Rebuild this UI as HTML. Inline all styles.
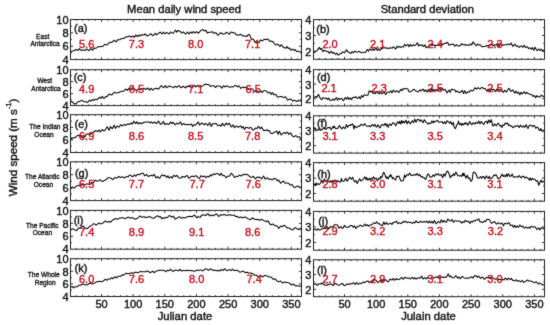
<!DOCTYPE html><html><head><meta charset="utf-8"><style>html,body{margin:0;padding:0;background:#fff;}svg{display:block;}text{font-family:"Liberation Sans",Arial,sans-serif;fill:#111;stroke:#111;stroke-width:0.4px;}text.r{fill:#c4121f;stroke:#c4121f;}text.s{stroke-width:0.3px;}</style></head><body>
<svg width="550" height="325" viewBox="0 0 550 325">
<defs><filter id="soft" x="0" y="0" width="100%" height="100%" filterUnits="userSpaceOnUse" color-interpolation-filters="sRGB"><feConvolveMatrix order="3" kernelMatrix="0.02 0.07 0.02 0.07 0.64 0.07 0.02 0.07 0.02" divisor="1" edgeMode="duplicate"/></filter></defs>
<g filter="url(#soft)">
<rect width="550" height="325" fill="#fff"/>
<clipPath id="c00"><rect x="70.5" y="19.5" width="231.0" height="40.1"/></clipPath>
<clipPath id="c01"><rect x="313.5" y="19.6" width="231.0" height="39.7"/></clipPath>
<clipPath id="c10"><rect x="70.5" y="69.7" width="231.0" height="35.9"/></clipPath>
<clipPath id="c11"><rect x="313.5" y="69.6" width="231.0" height="36.3"/></clipPath>
<clipPath id="c20"><rect x="70.5" y="114.7" width="231.0" height="37.8"/></clipPath>
<clipPath id="c21"><rect x="313.5" y="115.8" width="231.0" height="37.3"/></clipPath>
<clipPath id="c30"><rect x="70.5" y="161.8" width="231.0" height="38.8"/></clipPath>
<clipPath id="c31"><rect x="313.5" y="162.6" width="231.0" height="38.6"/></clipPath>
<clipPath id="c40"><rect x="70.5" y="210.4" width="231.0" height="38.8"/></clipPath>
<clipPath id="c41"><rect x="313.5" y="211.4" width="231.0" height="38.8"/></clipPath>
<clipPath id="c50"><rect x="70.5" y="258.7" width="231.0" height="37.8"/></clipPath>
<clipPath id="c51"><rect x="313.5" y="259.8" width="231.0" height="36.9"/></clipPath>
<polyline clip-path="url(#c00)" fill="none" stroke="#000" stroke-width="1.05" stroke-linejoin="round" points="70.5,52.73 71.13,52 71.77,51.26 72.4,51.11 73.03,50.96 73.66,50.82 74.3,50.49 74.93,50.16 75.56,49.82 76.2,49.49 76.83,49.78 77.46,50.13 78.09,50.48 78.73,49.55 79.36,48.61 79.99,49.25 80.63,49.89 81.26,50.53 81.89,50.33 82.52,50.13 83.16,49.87 83.79,50.04 84.42,50.22 85.06,50.39 85.69,49.97 86.32,49.55 86.95,49.12 87.59,49.63 88.22,50.15 88.85,50.66 89.49,49.98 90.12,49.3 90.75,48.63 91.38,49.21 92.02,49.69 92.65,50.18 93.28,49.11 93.92,48.05 94.55,48.14 95.18,48.23 95.82,48.31 96.45,47.84 97.08,47.38 97.71,46.89 98.35,46.82 98.98,46.75 99.61,46.68 100.25,46.62 100.88,46.57 101.51,46.52 102.14,46.48 102.78,46.43 103.41,45.73 104.04,45.06 104.68,44.41 105.31,44.54 105.94,44.67 106.57,44.8 107.21,44.93 107.84,44.26 108.47,43.58 109.11,42.91 109.74,42.24 110.37,42.33 111,42.43 111.64,42.52 112.27,41.96 112.9,41.38 113.54,40.8 114.17,40.21 114.8,40.77 115.43,41.33 116.07,41.88 116.7,41.13 117.33,40.39 117.97,39.64 118.6,39.65 119.23,39.66 119.86,39.67 120.5,39.24 121.13,38.87 121.76,38.52 122.4,38.53 123.03,38.54 123.66,38.56 124.29,38.03 124.93,37.51 125.56,36.99 126.19,37.01 126.83,37.03 127.46,36.79 128.09,36.54 128.72,36.3 129.36,36.09 129.99,36.45 130.62,36.81 131.26,37.17 131.89,36.8 132.52,36.43 133.15,36.06 133.79,36.72 134.42,37.38 135.05,36.16 135.69,34.95 136.32,35.5 136.95,36.05 137.58,36.6 138.22,35.82 138.85,35.05 139.48,35.48 140.12,35.91 140.75,35.46 141.38,35.01 142.02,34.56 142.65,34.75 143.28,34.93 143.91,35.12 144.55,34.5 145.18,33.88 145.81,34.54 146.45,35.23 147.08,35.93 147.71,35.68 148.34,35.43 148.98,35.18 149.61,34.69 150.24,34.2 150.88,33.71 151.51,34.39 152.14,35.06 152.77,35.74 153.41,35.16 154.04,34.58 154.67,33.96 155.31,33.32 155.94,34.12 156.57,34.91 157.2,34.35 157.84,33.79 158.47,33.23 159.1,32.91 159.74,32.58 160.37,32.26 161,32.82 161.63,33.38 162.27,33.95 162.9,33.03 163.53,32.17 164.17,32.96 164.8,33.75 165.43,33.35 166.06,32.95 166.7,32.55 167.33,32.91 167.96,33.27 168.6,33.63 169.23,33.99 169.86,32.98 170.49,31.96 171.13,32.42 171.76,32.74 172.39,33.02 173.03,33.31 173.66,32.54 174.29,31.78 174.92,31.01 175.56,30.25 176.19,31.23 176.82,32.2 177.46,31.13 178.09,30.44 178.72,30.72 179.35,31 179.99,31.29 180.62,31.91 181.25,32.54 181.89,33.15 182.52,32.5 183.15,31.84 183.78,32.41 184.42,32.98 185.05,33.55 185.68,34.12 186.32,33.47 186.95,32.72 187.58,31.97 188.22,33.01 188.85,34.04 189.48,33.34 190.11,32.65 190.75,31.95 191.38,32.56 192.01,33.17 192.65,32.43 193.28,31.7 193.91,32.06 194.54,32.44 195.18,32.93 195.81,32.24 196.44,31.56 197.08,32.13 197.71,32.7 198.34,33.26 198.97,32.67 199.61,31.85 200.24,31.03 200.87,30.59 201.51,30.15 202.14,29.71 202.77,29.62 203.4,30.03 204.04,30.53 204.67,31.04 205.3,30.65 205.94,30.25 206.57,31.59 207.2,32.91 207.83,32.7 208.47,32.48 209.1,32.27 209.73,32.26 210.37,32.26 211,32.11 211.63,31.94 212.26,31.76 212.9,32.28 213.53,32.8 214.16,33.32 214.8,32.99 215.43,32.65 216.06,32.79 216.69,33.79 217.33,34.8 217.96,35.3 218.59,34.61 219.23,33.92 219.86,33.36 220.49,32.79 221.12,33.04 221.76,33.45 222.39,33.86 223.02,33.91 223.66,33.96 224.29,34.01 224.92,33.6 225.55,33.19 226.19,32.79 226.82,32.38 227.45,32.87 228.09,33.36 228.72,33.79 229.35,34.22 229.98,33.19 230.62,32.15 231.25,32.2 231.88,32.25 232.52,32.45 233.15,32.83 233.78,32.88 234.42,32.93 235.05,32.98 235.68,33.94 236.31,34.9 236.95,34.97 237.58,35.05 238.21,35.13 238.85,34.92 239.48,34.7 240.11,34.49 240.74,34.28 241.38,34.87 242.01,35.46 242.64,36.06 243.28,35.93 243.91,35.79 244.54,35.66 245.17,36.25 245.81,36.3 246.44,36.34 247.07,36.39 247.71,35.36 248.34,34.55 248.97,34.67 249.6,34.78 250.24,36.32 250.87,37.86 251.5,39.37 252.14,39.31 252.77,39.26 253.4,39.2 254.03,40.55 254.67,41.89 255.3,42.45 255.93,42.68 256.57,42.63 257.2,42.57 257.83,42.61 258.46,42.64 259.1,42.48 259.73,41.28 260.36,40.09 261,40.3 261.63,40.52 262.26,40.93 262.89,40.38 263.53,39.83 264.16,39.27 264.79,39.39 265.43,39.5 266.06,39.61 266.69,39.28 267.32,39.04 267.96,39.18 268.59,39.9 269.22,40.61 269.86,41.32 270.49,41.22 271.12,41.08 271.75,41.34 272.39,41.6 273.02,41.85 273.65,42.69 274.29,43.53 274.92,44.27 275.55,44.92 276.18,44.62 276.82,44.32 277.45,44.02 278.08,44.6 278.72,45.18 279.35,45.79 279.98,46.4 280.62,45.54 281.25,44.68 281.88,45.52 282.51,46.36 283.15,47.18 283.78,47.46 284.41,47.73 285.05,48.01 285.68,48.28 286.31,47.38 286.94,46.49 287.58,47.49 288.21,48.54 288.84,48.28 289.48,48.02 290.11,49.09 290.74,50.17 291.37,49.81 292.01,49.41 292.64,49.02 293.27,49.74 293.91,50.47 294.54,50.05 295.17,49.63 295.8,50.37 296.44,51.01 297.07,51.65 297.7,51.5 298.34,51.36 298.97,51.21 299.6,51.62 300.23,51.97 300.87,52.28 301.5,51.69"/>
<path d="M76.2 59.6v-1.3M76.2 19.5v1.3M82.52 59.6v-1.3M82.52 19.5v1.3M88.85 59.6v-1.3M88.85 19.5v1.3M95.18 59.6v-1.3M95.18 19.5v1.3M101.51 59.6v-2.4M101.51 19.5v2.4M107.84 59.6v-1.3M107.84 19.5v1.3M114.17 59.6v-1.3M114.17 19.5v1.3M120.5 59.6v-1.3M120.5 19.5v1.3M126.83 59.6v-1.3M126.83 19.5v1.3M133.15 59.6v-2.4M133.15 19.5v2.4M139.48 59.6v-1.3M139.48 19.5v1.3M145.81 59.6v-1.3M145.81 19.5v1.3M152.14 59.6v-1.3M152.14 19.5v1.3M158.47 59.6v-1.3M158.47 19.5v1.3M164.8 59.6v-2.4M164.8 19.5v2.4M171.13 59.6v-1.3M171.13 19.5v1.3M177.46 59.6v-1.3M177.46 19.5v1.3M183.78 59.6v-1.3M183.78 19.5v1.3M190.11 59.6v-1.3M190.11 19.5v1.3M196.44 59.6v-2.4M196.44 19.5v2.4M202.77 59.6v-1.3M202.77 19.5v1.3M209.1 59.6v-1.3M209.1 19.5v1.3M215.43 59.6v-1.3M215.43 19.5v1.3M221.76 59.6v-1.3M221.76 19.5v1.3M228.09 59.6v-2.4M228.09 19.5v2.4M234.42 59.6v-1.3M234.42 19.5v1.3M240.74 59.6v-1.3M240.74 19.5v1.3M247.07 59.6v-1.3M247.07 19.5v1.3M253.4 59.6v-1.3M253.4 19.5v1.3M259.73 59.6v-2.4M259.73 19.5v2.4M266.06 59.6v-1.3M266.06 19.5v1.3M272.39 59.6v-1.3M272.39 19.5v1.3M278.72 59.6v-1.3M278.72 19.5v1.3M285.05 59.6v-1.3M285.05 19.5v1.3M291.37 59.6v-2.4M291.37 19.5v2.4M297.7 59.6v-1.3M297.7 19.5v1.3M70.5 52.92h1.3M301.5 52.92h-1.3M70.5 46.23h2.6M301.5 46.23h-2.6M70.5 39.55h1.3M301.5 39.55h-1.3M70.5 32.87h2.6M301.5 32.87h-2.6M70.5 26.18h1.3M301.5 26.18h-1.3" stroke="#1e1e1e" stroke-width="0.9" fill="none"/>
<rect x="70.5" y="19.5" width="231" height="40.1" fill="none" stroke="#1e1e1e" stroke-width="1"/>
<text x="74.1" y="31.55" font-size="11" fill="#111">(a)</text>
<text x="79" y="47.5" font-size="11" class="r">5.6</text>
<text x="128.8" y="47.5" font-size="11" class="r">7.3</text>
<text x="188" y="47.5" font-size="11" class="r">8.0</text>
<text x="245" y="47.5" font-size="11" class="r">7.1</text>
<polyline clip-path="url(#c01)" fill="none" stroke="#000" stroke-width="1.05" stroke-linejoin="round" points="313.5,50.84 314.13,51.69 314.77,52.54 315.4,51.73 316.03,50.92 316.66,50.68 317.3,50.29 317.93,49.34 318.56,48.38 319.2,47.42 319.83,48.28 320.46,49.5 321.09,48.94 321.73,48.38 322.36,50.21 322.99,51.7 323.63,51.02 324.26,50.34 324.89,50.51 325.52,50.68 326.16,51.12 326.79,51.56 327.42,51.5 328.06,51.44 328.69,52.39 329.32,53.33 329.95,52.62 330.59,51.91 331.22,51.23 331.85,52.23 332.49,53.24 333.12,52.8 333.75,52.36 334.38,53.09 335.02,53.82 335.65,54.48 336.28,53.75 336.92,53.02 337.55,54.08 338.18,55.13 338.82,54.79 339.45,54.42 340.08,53.7 340.71,53.56 341.35,53.41 341.98,52.63 342.61,51.84 343.25,52.12 343.88,52.44 344.51,52.83 345.14,51.84 345.78,50.86 346.41,49.88 347.04,50.61 347.68,51.73 348.31,52.02 348.94,52.32 349.57,52.61 350.21,53.17 350.84,53.4 351.47,52.46 352.11,51.52 352.74,52.23 353.37,52.95 354,52 354.64,51.08 355.27,51.47 355.9,51.86 356.54,52.02 357.17,52.18 357.8,51.89 358.43,51.61 359.07,51.58 359.7,51.54 360.33,52.13 360.97,52.72 361.6,52.66 362.23,52.6 362.86,52.52 363.5,52.4 364.13,52.27 364.76,52.35 365.4,52.44 366.03,51.46 366.66,50.49 367.29,49.48 367.93,50.39 368.56,51.31 369.19,50.11 369.83,48.9 370.46,49.39 371.09,49.89 371.72,50.47 372.36,49.58 372.99,48.69 373.62,49.54 374.26,50.4 374.89,49.5 375.52,48.65 376.15,47.88 376.79,49.15 377.42,50.42 378.05,49.65 378.69,48.88 379.32,49.82 379.95,50.48 380.58,49.5 381.22,48.52 381.85,48.64 382.48,48.75 383.12,47.79 383.75,46.86 384.38,47.35 385.02,47.84 385.65,48.33 386.28,48.09 386.91,47.86 387.55,48.31 388.18,48.63 388.81,48.31 389.45,47.99 390.08,47.67 390.71,47.89 391.34,48.1 391.98,48.31 392.61,47.58 393.24,46.88 393.88,47.32 394.51,47.76 395.14,48.41 395.77,49.06 396.41,47.56 397.04,46.17 397.67,46.77 398.31,47.37 398.94,46.88 399.57,46.4 400.2,46.99 400.84,47.4 401.47,47.03 402.1,46.65 402.74,46.8 403.37,46.94 404,45.61 404.63,44.29 405.27,45.04 405.9,45.93 406.53,45.43 407.17,44.92 407.8,44.42 408.43,45.54 409.06,46.64 409.7,45.48 410.33,44.31 410.96,45.3 411.6,46.29 412.23,45.79 412.86,45.28 413.49,44.74 414.13,45.16 414.76,45.58 415.39,45.09 416.03,44.6 416.66,43.68 417.29,42.75 417.92,44.31 418.56,45.95 419.19,45.33 419.82,44.71 420.46,45.19 421.09,45.66 421.72,45.3 422.35,44.93 422.99,45.74 423.62,46.55 424.25,45.68 424.89,44.8 425.52,46.33 426.15,47.71 426.78,47.38 427.42,47.06 428.05,46.74 428.68,46.47 429.32,45.35 429.95,44.24 430.58,44.71 431.22,45.19 431.85,45.67 432.48,44.89 433.11,44.22 433.75,45.01 434.38,45.81 435.01,45.55 435.65,45.29 436.28,45.48 436.91,45.57 437.54,45.34 438.18,45.11 438.81,44.88 439.44,44.62 440.08,44.36 440.71,44.07 441.34,43.6 441.97,44.02 442.61,44.43 443.24,44.09 443.87,43.74 444.51,43.39 445.14,43.37 445.77,43.31 446.4,43.25 447.04,42.31 447.67,42.41 448.3,43.77 448.94,45.13 449.57,44.92 450.2,44.49 450.83,44.53 451.47,44.57 452.1,44.36 452.73,44.16 453.37,43.98 454,45.05 454.63,46.12 455.26,45.59 455.9,45.06 456.53,44.53 457.16,45.21 457.8,45.7 458.43,45.94 459.06,45.87 459.69,45.8 460.33,45.73 460.96,44.68 461.59,43.63 462.23,44.08 462.86,44.51 463.49,44.6 464.12,45.09 464.76,44.76 465.39,44.44 466.02,45.21 466.66,45.36 467.29,45.01 467.92,44.66 468.55,45.07 469.19,45.49 469.82,44.73 470.45,43.86 471.09,44.43 471.72,45 472.35,43.51 472.98,42.02 473.62,42.51 474.25,43.31 474.88,44.13 475.52,44.95 476.15,45.76 476.78,44.95 477.42,44.08 478.05,44.63 478.68,45.19 479.31,44.89 479.95,44.59 480.58,45.26 481.21,46.03 481.85,46.82 482.48,46.71 483.11,46.59 483.74,46.48 484.38,46.5 485.01,46.48 485.64,46.14 486.28,45.8 486.91,45.46 487.54,45.76 488.17,46.06 488.81,45.38 489.44,44.75 490.07,45.14 490.71,45.53 491.34,44.77 491.97,44.01 492.6,45.03 493.24,46.05 493.87,45.42 494.5,44.78 495.14,44.88 495.77,44.99 496.4,45.1 497.03,44.16 497.67,43.25 498.3,44.87 498.93,46.49 499.57,45.56 500.2,44.63 500.83,44.4 501.46,44.16 502.1,44.86 502.73,45.37 503.36,45.04 504,44.7 504.63,44.8 505.26,44.9 505.89,44.78 506.53,44.71 507.16,44.39 507.79,44.07 508.43,44.32 509.06,44.57 509.69,44.82 510.32,43.75 510.96,42.99 511.59,44.12 512.22,45.25 512.86,46.38 513.49,45.65 514.12,44.92 514.75,44.15 515.39,44.91 516.02,45.67 516.65,46.43 517.29,46.1 517.92,45.77 518.55,46.68 519.18,47.34 519.82,46.85 520.45,46.37 521.08,45.88 521.72,46.31 522.35,46.74 522.98,47.22 523.62,46.29 524.25,45.35 524.88,46.35 525.51,47.36 526.15,47.16 526.78,46.96 527.41,46.69 528.05,47.68 528.68,48.66 529.31,48.19 529.94,47.73 530.58,48.51 531.21,49.29 531.84,48.41 532.48,47.52 533.11,48.93 533.74,50.33 534.37,48.83 535.01,47.33 535.64,48.34 536.27,49.46 536.91,50.58 537.54,50.05 538.17,49.53 538.8,49.01 539.44,49.86 540.07,50.56 540.7,49.83 541.34,49.09 541.97,49.8 542.6,50.51 543.23,51.22 543.87,50.43 544.5,49.71"/>
<path d="M319.2 59.3v-1.3M319.2 19.6v1.3M325.52 59.3v-1.3M325.52 19.6v1.3M331.85 59.3v-1.3M331.85 19.6v1.3M338.18 59.3v-1.3M338.18 19.6v1.3M344.51 59.3v-2.4M344.51 19.6v2.4M350.84 59.3v-1.3M350.84 19.6v1.3M357.17 59.3v-1.3M357.17 19.6v1.3M363.5 59.3v-1.3M363.5 19.6v1.3M369.83 59.3v-1.3M369.83 19.6v1.3M376.15 59.3v-2.4M376.15 19.6v2.4M382.48 59.3v-1.3M382.48 19.6v1.3M388.81 59.3v-1.3M388.81 19.6v1.3M395.14 59.3v-1.3M395.14 19.6v1.3M401.47 59.3v-1.3M401.47 19.6v1.3M407.8 59.3v-2.4M407.8 19.6v2.4M414.13 59.3v-1.3M414.13 19.6v1.3M420.46 59.3v-1.3M420.46 19.6v1.3M426.78 59.3v-1.3M426.78 19.6v1.3M433.11 59.3v-1.3M433.11 19.6v1.3M439.44 59.3v-2.4M439.44 19.6v2.4M445.77 59.3v-1.3M445.77 19.6v1.3M452.1 59.3v-1.3M452.1 19.6v1.3M458.43 59.3v-1.3M458.43 19.6v1.3M464.76 59.3v-1.3M464.76 19.6v1.3M471.09 59.3v-2.4M471.09 19.6v2.4M477.42 59.3v-1.3M477.42 19.6v1.3M483.74 59.3v-1.3M483.74 19.6v1.3M490.07 59.3v-1.3M490.07 19.6v1.3M496.4 59.3v-1.3M496.4 19.6v1.3M502.73 59.3v-2.4M502.73 19.6v2.4M509.06 59.3v-1.3M509.06 19.6v1.3M515.39 59.3v-1.3M515.39 19.6v1.3M521.72 59.3v-1.3M521.72 19.6v1.3M528.05 59.3v-1.3M528.05 19.6v1.3M534.37 59.3v-2.4M534.37 19.6v2.4M540.7 59.3v-1.3M540.7 19.6v1.3M313.5 51.36h2.6M544.5 51.36h-2.6M313.5 43.42h1.3M544.5 43.42h-1.3M313.5 35.48h2.6M544.5 35.48h-2.6M313.5 27.54h1.3M544.5 27.54h-1.3" stroke="#1e1e1e" stroke-width="0.9" fill="none"/>
<rect x="313.5" y="19.6" width="231" height="39.7" fill="none" stroke="#1e1e1e" stroke-width="1"/>
<text x="316.3" y="33.05" font-size="11" fill="#111">(b)</text>
<text x="322.4" y="47.5" font-size="11" class="r">2.0</text>
<text x="370" y="47.5" font-size="11" class="r">2.1</text>
<text x="427.5" y="47.5" font-size="11" class="r">2.4</text>
<text x="487.3" y="47.5" font-size="11" class="r">2.3</text>
<text x="68.6" y="23.7" font-size="11" text-anchor="end" fill="#111">10</text>
<text x="68.6" y="37.07" font-size="11" text-anchor="end" fill="#111">8</text>
<text x="68.6" y="50.43" font-size="11" text-anchor="end" fill="#111">6</text>
<text x="68.6" y="63.8" font-size="11" text-anchor="end" fill="#111">4</text>
<text x="311.3" y="24" font-size="11" text-anchor="end" fill="#111">4</text>
<text x="311.3" y="39.88" font-size="11" text-anchor="end" fill="#111">3</text>
<text x="311.3" y="55.76" font-size="11" text-anchor="end" fill="#111">2</text>
<text x="42.7" y="38.7" font-size="6.6" text-anchor="middle" class="s">East</text>
<text x="45.1" y="46.4" font-size="6.6" text-anchor="middle" class="s">Antarctica</text>
<polyline clip-path="url(#c10)" fill="none" stroke="#000" stroke-width="1.05" stroke-linejoin="round" points="70.5,101.34 71.13,101.48 71.77,101.62 72.4,101.76 73.03,102.56 73.66,103.37 74.3,104.11 74.93,103.84 75.56,103.56 76.2,103.28 76.83,102.8 77.46,102.32 78.09,101.84 78.73,101.61 79.36,101.43 79.99,101.25 80.63,100.95 81.26,100.65 81.89,100.36 82.52,100.7 83.16,101.19 83.79,101.72 84.42,101.73 85.06,101.75 85.69,101.76 86.32,101.77 86.95,102.34 87.59,102.53 88.22,101.74 88.85,100.96 89.49,100.17 90.12,100.65 90.75,101.13 91.38,100.51 92.02,100.03 92.65,99.55 93.28,99.96 93.92,100.37 94.55,99.77 95.18,99.16 95.82,99.34 96.45,99.47 97.08,99.6 97.71,99 98.35,98.4 98.98,97.8 99.61,97.24 100.25,97.86 100.88,98.48 101.51,97.44 102.14,96.41 102.78,97.16 103.41,97.91 104.04,98.51 104.68,97.82 105.31,97.12 105.94,96.43 106.57,96.48 107.21,96.53 107.84,95.67 108.47,94.86 109.11,94.07 109.74,94.31 110.37,94.56 111,94.8 111.64,95.05 112.27,94.36 112.9,93.7 113.54,93.04 114.17,92.38 114.8,92.53 115.43,92.67 116.07,92.81 116.7,93.01 117.33,92.93 117.97,92.85 118.6,92.56 119.23,92.28 119.86,92 120.5,91.72 121.13,91.51 121.76,91.28 122.4,91.25 123.03,91.23 123.66,91.2 124.29,90.51 124.93,89.81 125.56,89.12 126.19,89.53 126.83,89.94 127.46,90.35 128.09,89.35 128.72,88.35 129.36,88.7 129.99,89.12 130.62,89.54 131.26,89.96 131.89,88.67 132.52,87.39 133.15,87.71 133.79,88.29 134.42,88.93 135.05,89.57 135.69,89.91 136.32,90.24 136.95,90.57 137.58,89.87 138.22,88.93 138.85,89.24 139.48,89.56 140.12,89.87 140.75,89.46 141.38,89.04 142.02,88.59 142.65,88.45 143.28,88.32 143.91,88.19 144.55,88.65 145.18,89.11 145.81,89.57 146.45,89.01 147.08,88.5 147.71,87.99 148.34,88.69 148.98,89.38 149.61,90.08 150.24,89.16 150.88,88.27 151.51,88.94 152.14,89.6 152.77,90.26 153.41,89.52 154.04,88.77 154.67,88.76 155.31,88.58 155.94,88.39 156.57,88.21 157.2,88.52 157.84,88.84 158.47,89.15 159.1,88.38 159.74,87.55 160.37,86.72 161,85.89 161.63,85.79 162.27,86.35 162.9,87.05 163.53,87.75 164.17,87.1 164.8,86.45 165.43,85.64 166.06,86.66 166.7,87.68 167.33,87.27 167.96,86.86 168.6,86.45 169.23,86.02 169.86,86.23 170.49,86.44 171.13,86.65 171.76,86.86 172.39,87.14 173.03,87.43 173.66,87.69 174.29,86.97 174.92,86.25 175.56,86.58 176.19,86.92 176.82,87.25 177.46,86.68 178.09,86.32 178.72,86.01 179.35,85.69 179.99,86.75 180.62,87.81 181.25,87.53 181.89,87.23 182.52,86.73 183.15,86.24 183.78,86.64 184.42,87.04 185.05,87.45 185.68,87.85 186.32,86.96 186.95,86.13 187.58,86.47 188.22,86.81 188.85,86.69 189.48,86.58 190.11,86.46 190.75,86.97 191.38,87.45 192.01,87.92 192.65,87.25 193.28,86.57 193.91,85.9 194.54,85.27 195.18,86.14 195.81,87.02 196.44,86.44 197.08,85.85 197.71,85.26 198.34,85.81 198.97,86.27 199.61,86.63 200.24,86.98 200.87,86.71 201.51,86.43 202.14,86.15 202.77,85.87 203.4,85.38 204.04,84.87 204.67,84.36 205.3,84.36 205.94,84.35 206.57,84.35 207.2,84.4 207.83,84.53 208.47,84.66 209.1,84.79 209.73,85.61 210.37,86.44 211,86.21 211.63,85.95 212.26,85.66 212.9,85.75 213.53,85.85 214.16,85.94 214.8,86.74 215.43,87.53 216.06,86.83 216.69,86.13 217.33,86.05 217.96,85.98 218.59,85.91 219.23,86.11 219.86,86.28 220.49,86.36 221.12,87.26 221.76,88.17 222.39,87.34 223.02,86.51 223.66,85.69 224.29,86.3 224.92,86.89 225.55,86.55 226.19,86.21 226.82,85.87 227.45,86.11 228.09,86.36 228.72,86.83 229.35,87.33 229.98,87.16 230.62,86.99 231.25,86.82 231.88,86.65 232.52,86.96 233.15,86.94 233.78,86.43 234.42,85.92 235.05,85.41 235.68,85.59 236.31,85.77 236.95,86.22 237.58,86.9 238.21,86.41 238.85,85.92 239.48,86.73 240.11,87.54 240.74,88.35 241.38,87.94 242.01,87.51 242.64,87.07 243.28,87.31 243.91,87.56 244.54,87.8 245.17,87.38 245.81,87.17 246.44,86.96 247.07,87.73 247.71,88.5 248.34,89.27 248.97,89.12 249.6,89 250.24,88.92 250.87,88.84 251.5,88.91 252.14,88.98 252.77,89.05 253.4,90.02 254.03,90.76 254.67,91.47 255.3,91.05 255.93,90.62 256.57,90.7 257.2,90.79 257.83,91.47 258.46,92.23 259.1,91.96 259.73,91.68 260.36,91.4 261,91.13 261.63,91.9 262.26,92.51 262.89,91.67 263.53,90.82 264.16,90.8 264.79,90.78 265.43,90.76 266.06,90.74 266.69,91.44 267.32,92.21 267.96,92.97 268.59,92.69 269.22,92.41 269.86,92.14 270.49,93.32 271.12,94.37 271.75,93.46 272.39,92.55 273.02,93.6 273.65,94.66 274.29,94.41 274.92,94.26 275.55,94.17 276.18,95.14 276.82,96.11 277.45,97.07 278.08,97.04 278.72,97 279.35,96.77 279.98,96.51 280.62,96.46 281.25,96.41 281.88,96.68 282.51,96.95 283.15,97.24 283.78,97.64 284.41,97.36 285.05,97.08 285.68,96.8 286.31,97.9 286.94,99 287.58,100.1 288.21,99.84 288.84,99.57 289.48,99.31 290.11,99.05 290.74,99.16 291.37,99.28 292.01,100.19 292.64,101.1 293.27,100.78 293.91,100.46 294.54,100.14 295.17,100.65 295.8,101.09 296.44,101.31 297.07,101.53 297.7,100.88 298.34,100.22 298.97,100.49 299.6,100.76 300.23,100.91 300.87,100.95 301.5,100.02"/>
<path d="M76.2 105.6v-1.3M76.2 69.7v1.3M82.52 105.6v-1.3M82.52 69.7v1.3M88.85 105.6v-1.3M88.85 69.7v1.3M95.18 105.6v-1.3M95.18 69.7v1.3M101.51 105.6v-2.4M101.51 69.7v2.4M107.84 105.6v-1.3M107.84 69.7v1.3M114.17 105.6v-1.3M114.17 69.7v1.3M120.5 105.6v-1.3M120.5 69.7v1.3M126.83 105.6v-1.3M126.83 69.7v1.3M133.15 105.6v-2.4M133.15 69.7v2.4M139.48 105.6v-1.3M139.48 69.7v1.3M145.81 105.6v-1.3M145.81 69.7v1.3M152.14 105.6v-1.3M152.14 69.7v1.3M158.47 105.6v-1.3M158.47 69.7v1.3M164.8 105.6v-2.4M164.8 69.7v2.4M171.13 105.6v-1.3M171.13 69.7v1.3M177.46 105.6v-1.3M177.46 69.7v1.3M183.78 105.6v-1.3M183.78 69.7v1.3M190.11 105.6v-1.3M190.11 69.7v1.3M196.44 105.6v-2.4M196.44 69.7v2.4M202.77 105.6v-1.3M202.77 69.7v1.3M209.1 105.6v-1.3M209.1 69.7v1.3M215.43 105.6v-1.3M215.43 69.7v1.3M221.76 105.6v-1.3M221.76 69.7v1.3M228.09 105.6v-2.4M228.09 69.7v2.4M234.42 105.6v-1.3M234.42 69.7v1.3M240.74 105.6v-1.3M240.74 69.7v1.3M247.07 105.6v-1.3M247.07 69.7v1.3M253.4 105.6v-1.3M253.4 69.7v1.3M259.73 105.6v-2.4M259.73 69.7v2.4M266.06 105.6v-1.3M266.06 69.7v1.3M272.39 105.6v-1.3M272.39 69.7v1.3M278.72 105.6v-1.3M278.72 69.7v1.3M285.05 105.6v-1.3M285.05 69.7v1.3M291.37 105.6v-2.4M291.37 69.7v2.4M297.7 105.6v-1.3M297.7 69.7v1.3M70.5 99.62h1.3M301.5 99.62h-1.3M70.5 93.63h2.6M301.5 93.63h-2.6M70.5 87.65h1.3M301.5 87.65h-1.3M70.5 81.67h2.6M301.5 81.67h-2.6M70.5 75.68h1.3M301.5 75.68h-1.3" stroke="#1e1e1e" stroke-width="0.9" fill="none"/>
<rect x="70.5" y="69.7" width="231" height="35.9" fill="none" stroke="#1e1e1e" stroke-width="1"/>
<text x="73.7" y="80.55" font-size="11" fill="#111">(c)</text>
<text x="79" y="92.8" font-size="11" class="r">4.9</text>
<text x="128.8" y="92.8" font-size="11" class="r">6.5</text>
<text x="188" y="92.8" font-size="11" class="r">7.1</text>
<text x="245.6" y="92.8" font-size="11" class="r">6.5</text>
<polyline clip-path="url(#c11)" fill="none" stroke="#000" stroke-width="1.05" stroke-linejoin="round" points="313.5,97.6 314.13,97.25 314.77,96.9 315.4,96.31 316.03,96.96 316.66,97.61 317.3,96.41 317.93,95.22 318.56,94.42 319.2,96.03 319.83,97.64 320.46,98.42 321.09,99.21 321.73,99.72 322.36,98.67 322.99,97.62 323.63,97.87 324.26,98.12 324.89,98.45 325.52,98.28 326.16,98.11 326.79,98.74 327.42,99.37 328.06,98.75 328.69,98.13 329.32,99.12 329.95,100.12 330.59,100.16 331.22,100.21 331.85,100.26 332.49,99.6 333.12,98.94 333.75,99.62 334.38,100.31 335.02,99.39 335.65,98.47 336.28,97.55 336.92,98.87 337.55,100.27 338.18,99.24 338.82,98.21 339.45,98.73 340.08,99.25 340.71,98.93 341.35,98.6 341.98,98.53 342.61,99.64 343.25,100.76 343.88,100.26 344.51,98.9 345.14,97.55 345.78,97.86 346.41,99.23 347.04,98.17 347.68,97.12 348.31,98.31 348.94,99.49 349.57,98.7 350.21,97.76 350.84,98.77 351.47,99.78 352.11,98.63 352.74,97.47 353.37,97.41 354,97.34 354.64,97.52 355.27,97.05 355.9,96.58 356.54,97.56 357.17,98.54 357.8,98.12 358.43,97.67 359.07,96.9 359.7,97.85 360.33,98.79 360.97,97.12 361.6,95.45 362.23,96.35 362.86,97.27 363.5,96.06 364.13,94.86 364.76,95.09 365.4,95.31 366.03,95.27 366.66,95.22 367.29,95.29 367.93,95.15 368.56,93.05 369.19,90.95 369.83,90.9 370.46,91.89 371.09,91.59 371.72,91.29 372.36,92.44 372.99,93.58 373.62,93.18 374.26,92.59 374.89,93.15 375.52,93.71 376.15,92.48 376.79,91.25 377.42,92.01 378.05,93.01 378.69,93.45 379.32,93.88 379.95,92.76 380.58,91.64 381.22,92.71 381.85,93.78 382.48,93.3 383.12,92.83 383.75,92.51 384.38,92.2 385.02,93.41 385.65,94.63 386.28,93.52 386.91,92.3 387.55,92.22 388.18,92.15 388.81,92.32 389.45,92.49 390.08,91.51 390.71,90.76 391.34,91.81 391.98,92.86 392.61,91.49 393.24,90.11 393.88,90.72 394.51,91.41 395.14,92.21 395.77,91.67 396.41,91.13 397.04,90.59 397.67,91.35 398.31,92.11 398.94,92.55 399.57,91.43 400.2,90.3 400.84,89.18 401.47,89.93 402.1,90.68 402.74,89.65 403.37,88.64 404,88.74 404.63,88.84 405.27,88.69 405.9,88.59 406.53,88.71 407.17,88.83 407.8,88.95 408.43,90.34 409.06,91.68 409.7,91.67 410.33,91.67 410.96,91.66 411.6,91.09 412.23,90.53 412.86,89.88 413.49,89.43 414.13,89.26 414.76,90.03 415.39,90.8 416.03,91 416.66,91.21 417.29,91.68 417.92,91.73 418.56,91.63 419.19,90.74 419.82,89.84 420.46,90.36 421.09,90.88 421.72,90.02 422.35,89.57 422.99,89.12 423.62,90.31 424.25,91.5 424.89,90.65 425.52,89.81 426.15,90.98 426.78,92.03 427.42,90.93 428.05,89.81 428.68,89.61 429.32,89.41 429.95,90.53 430.58,91.64 431.22,89.99 431.85,88.34 432.48,89.72 433.11,91.1 433.75,90.21 434.38,89.31 435.01,90.16 435.65,91 436.28,90.11 436.91,89.18 437.54,90.08 438.18,90.98 438.81,89.76 439.44,88.55 440.08,89.17 440.71,89.82 441.34,88.83 441.97,87.85 442.61,88.62 443.24,89.39 443.87,90.16 444.51,89.78 445.14,89.38 445.77,90.57 446.4,91.76 447.04,92.95 447.67,91.96 448.3,90.97 448.94,89.98 449.57,91.22 450.2,92.37 450.83,90.82 451.47,89.27 452.1,89.39 452.73,89.52 453.37,89.68 454,89.76 454.63,89.83 455.26,90.86 455.9,91.88 456.53,91.46 457.16,91.03 457.8,91.63 458.43,92.04 459.06,92.45 459.69,92.36 460.33,92.28 460.96,91.56 461.59,90.83 462.23,90.32 462.86,91.9 463.49,93.47 464.12,92.05 464.76,90.63 465.39,92.07 466.02,93.47 466.66,92.9 467.29,92.33 467.92,91.76 468.55,91.96 469.19,92.16 469.82,91.17 470.45,90.2 471.09,90.47 471.72,90.73 472.35,90.99 472.98,90.53 473.62,90.06 474.25,88.91 474.88,87.8 475.52,88.25 476.15,88.7 476.78,89.16 477.42,88.38 478.05,87.6 478.68,88.13 479.31,88.6 479.95,89.08 480.58,88.53 481.21,87.97 481.85,87.42 482.48,87.59 483.11,88.02 483.74,88.79 484.38,88.61 485.01,88.43 485.64,89.31 486.28,90.19 486.91,91.07 487.54,90.15 488.17,89.09 488.81,89.74 489.44,90.39 490.07,91.04 490.71,89.95 491.34,88.9 491.97,89.46 492.6,90.02 493.24,89.65 493.87,89.28 494.5,90.08 495.14,90.87 495.77,91.47 496.4,90.24 497.03,89.01 497.67,89.34 498.3,89.67 498.93,90 499.57,89.7 500.2,89.74 500.83,89.89 501.46,90.41 502.1,90.93 502.73,91.66 503.36,92.38 504,91.5 504.63,90.26 505.26,90.86 505.89,91.46 506.53,92.05 507.16,90.89 507.79,89.73 508.43,88.96 509.06,88.33 509.69,89.38 510.32,90.42 510.96,91.47 511.59,90.89 512.22,90.31 512.86,89.83 513.49,90.93 514.12,92.03 514.75,93.13 515.39,92.14 516.02,91.14 516.65,92.26 517.29,93.33 517.92,92.68 518.55,92.03 519.18,93.45 519.82,94.87 520.45,93.67 521.08,92.32 521.72,93.07 522.35,93.83 522.98,93.12 523.62,92.41 524.25,91.7 524.88,92.62 525.51,93.8 526.15,93.11 526.78,92.42 527.41,92.98 528.05,93.54 528.68,93.72 529.31,93.91 529.94,94.25 530.58,94.41 531.21,94.58 531.84,94.75 532.48,95.58 533.11,96.41 533.74,96 534.37,95.52 535.01,96.69 535.64,97.86 536.27,96.74 536.91,95.62 537.54,96.29 538.17,96.76 538.8,96.79 539.44,96.83 540.07,96.87 540.7,95.93 541.34,94.99 541.97,95.62 542.6,96.22 543.23,96.37 543.87,96.53 544.5,95.64"/>
<path d="M319.2 105.9v-1.3M319.2 69.6v1.3M325.52 105.9v-1.3M325.52 69.6v1.3M331.85 105.9v-1.3M331.85 69.6v1.3M338.18 105.9v-1.3M338.18 69.6v1.3M344.51 105.9v-2.4M344.51 69.6v2.4M350.84 105.9v-1.3M350.84 69.6v1.3M357.17 105.9v-1.3M357.17 69.6v1.3M363.5 105.9v-1.3M363.5 69.6v1.3M369.83 105.9v-1.3M369.83 69.6v1.3M376.15 105.9v-2.4M376.15 69.6v2.4M382.48 105.9v-1.3M382.48 69.6v1.3M388.81 105.9v-1.3M388.81 69.6v1.3M395.14 105.9v-1.3M395.14 69.6v1.3M401.47 105.9v-1.3M401.47 69.6v1.3M407.8 105.9v-2.4M407.8 69.6v2.4M414.13 105.9v-1.3M414.13 69.6v1.3M420.46 105.9v-1.3M420.46 69.6v1.3M426.78 105.9v-1.3M426.78 69.6v1.3M433.11 105.9v-1.3M433.11 69.6v1.3M439.44 105.9v-2.4M439.44 69.6v2.4M445.77 105.9v-1.3M445.77 69.6v1.3M452.1 105.9v-1.3M452.1 69.6v1.3M458.43 105.9v-1.3M458.43 69.6v1.3M464.76 105.9v-1.3M464.76 69.6v1.3M471.09 105.9v-2.4M471.09 69.6v2.4M477.42 105.9v-1.3M477.42 69.6v1.3M483.74 105.9v-1.3M483.74 69.6v1.3M490.07 105.9v-1.3M490.07 69.6v1.3M496.4 105.9v-1.3M496.4 69.6v1.3M502.73 105.9v-2.4M502.73 69.6v2.4M509.06 105.9v-1.3M509.06 69.6v1.3M515.39 105.9v-1.3M515.39 69.6v1.3M521.72 105.9v-1.3M521.72 69.6v1.3M528.05 105.9v-1.3M528.05 69.6v1.3M534.37 105.9v-2.4M534.37 69.6v2.4M540.7 105.9v-1.3M540.7 69.6v1.3M313.5 98.64h2.6M544.5 98.64h-2.6M313.5 91.38h1.3M544.5 91.38h-1.3M313.5 84.12h2.6M544.5 84.12h-2.6M313.5 76.86h1.3M544.5 76.86h-1.3" stroke="#1e1e1e" stroke-width="0.9" fill="none"/>
<rect x="313.5" y="69.6" width="231" height="36.3" fill="none" stroke="#1e1e1e" stroke-width="1"/>
<text x="316.9" y="80.85" font-size="11" fill="#111">(d)</text>
<text x="321.4" y="92.4" font-size="11" class="r">2.1</text>
<text x="371.5" y="92.4" font-size="11" class="r">2.3</text>
<text x="427.5" y="92.4" font-size="11" class="r">2.5</text>
<text x="487.3" y="92.4" font-size="11" class="r">2.5</text>
<text x="68.6" y="73.9" font-size="11" text-anchor="end" fill="#111">10</text>
<text x="68.6" y="85.87" font-size="11" text-anchor="end" fill="#111">8</text>
<text x="68.6" y="97.83" font-size="11" text-anchor="end" fill="#111">6</text>
<text x="68.6" y="109.8" font-size="11" text-anchor="end" fill="#111">4</text>
<text x="311.3" y="74" font-size="11" text-anchor="end" fill="#111">4</text>
<text x="311.3" y="88.52" font-size="11" text-anchor="end" fill="#111">3</text>
<text x="311.3" y="103.04" font-size="11" text-anchor="end" fill="#111">2</text>
<text x="44.65" y="82.7" font-size="6.6" text-anchor="middle" class="s">West</text>
<text x="45.95" y="90.8" font-size="6.6" text-anchor="middle" class="s">Antarctica</text>
<polyline clip-path="url(#c20)" fill="none" stroke="#000" stroke-width="1.05" stroke-linejoin="round" points="70.5,139.85 71.13,138.86 71.77,137.87 72.4,138.1 73.03,138.32 73.66,137.94 74.3,137.55 74.93,137.49 75.56,137.43 76.2,136.69 76.83,135.99 77.46,135.29 78.09,135.56 78.73,135.82 79.36,136.09 79.99,135.51 80.63,135.03 81.26,136 81.89,136.96 82.52,137.93 83.16,136.72 83.79,135.4 84.42,136.08 85.06,136.76 85.69,135.52 86.32,134.28 86.95,134.02 87.59,133.95 88.22,133.88 88.85,134.12 89.49,134.35 90.12,134.59 90.75,134.11 91.38,133.47 92.02,132.67 92.65,132.46 93.28,132.26 93.92,132.05 94.55,131.46 95.18,130.99 95.82,130.52 96.45,130.86 97.08,131.2 97.71,131.61 98.35,130.79 98.98,129.96 99.61,130.92 100.25,131.88 100.88,131.16 101.51,130.44 102.14,129.56 102.78,130.01 103.41,130.46 104.04,130.91 104.68,130.4 105.31,129.89 105.94,128.74 106.57,127.75 107.21,126.77 107.84,127.92 108.47,129.08 109.11,130.23 109.74,128.48 110.37,126.66 111,127.35 111.64,128.04 112.27,128.73 112.9,127.53 113.54,126.33 114.17,125.13 114.8,126.73 115.43,128.35 116.07,127.59 116.7,126.83 117.33,126.06 117.97,126.49 118.6,126.89 119.23,127.13 119.86,125.9 120.5,124.66 121.13,125.07 121.76,125.48 122.4,125.89 123.03,125.4 123.66,124.96 124.29,124.52 124.93,124.74 125.56,124.96 126.19,125.3 126.83,124.71 127.46,124.12 128.09,123.53 128.72,124.12 129.36,124.55 129.99,124.03 130.62,123.51 131.26,123 131.89,123.5 132.52,124.01 133.15,122.49 133.79,121.14 134.42,122 135.05,122.86 135.69,123.73 136.32,122.79 136.95,121.86 137.58,122.82 138.22,123.96 138.85,123.29 139.48,122.61 140.12,123.03 140.75,123.46 141.38,123.88 142.02,123.55 142.65,123.02 143.28,122.5 143.91,122.39 144.55,122.29 145.18,122.19 145.81,121.91 146.45,121.91 147.08,121.98 147.71,121.99 148.34,122 148.98,122.02 149.61,122.48 150.24,122.94 150.88,122.42 151.51,121.9 152.14,122.6 152.77,123.3 153.41,122.91 154.04,122.51 154.67,122 155.31,122.56 155.94,123.11 156.57,123.67 157.2,122.79 157.84,121.91 158.47,121.03 159.1,122.06 159.74,123.12 160.37,124.18 161,123.92 161.63,123.67 162.27,123.41 162.9,122.31 163.53,121.36 164.17,122.99 164.8,124.62 165.43,124.23 166.06,123.84 166.7,123.45 167.33,123.98 167.96,124.26 168.6,124.54 169.23,123.69 169.86,122.85 170.49,122.01 171.13,122.62 171.76,123.64 172.39,122.94 173.03,122.23 173.66,123.06 174.29,123.9 174.92,124.73 175.56,124.46 176.19,123.85 176.82,123.23 177.46,123.48 178.09,123.72 178.72,123.96 179.35,123.15 179.99,122.5 180.62,122.01 181.25,123.47 181.89,124.93 182.52,124.44 183.15,123.94 183.78,123.45 184.42,124.08 185.05,124.68 185.68,124.67 186.32,124.62 186.95,124.47 187.58,124.33 188.22,124.51 188.85,124.69 189.48,124.87 190.11,124.42 190.75,124.2 191.38,124.04 192.01,125.27 192.65,126.51 193.28,125.54 193.91,124.57 194.54,124.97 195.18,124.91 195.81,124.86 196.44,124.15 197.08,123.43 197.71,122.71 198.34,121.99 198.97,123.5 199.61,125.24 200.24,124.51 200.87,123.79 201.51,123.06 202.14,123.28 202.77,123.5 203.4,124.17 204.04,124.78 204.67,124.09 205.3,123.4 205.94,123.82 206.57,124.24 207.2,124.67 207.83,125.41 208.47,124.49 209.1,123.56 209.73,122.63 210.37,124.54 211,126.45 211.63,125.63 212.26,124.64 212.9,123.65 213.53,123.74 214.16,123.82 214.8,123.91 215.43,123.54 216.06,123.46 216.69,124.18 217.33,124.9 217.96,125.63 218.59,125.47 219.23,125.32 219.86,125.09 220.49,125.67 221.12,126.25 221.76,124.75 222.39,123.25 223.02,124.12 223.66,124.99 224.29,126.04 224.92,125.07 225.55,124.1 226.19,123.13 226.82,123.91 227.45,124.7 228.09,124.2 228.72,123.75 229.35,123.32 229.98,124.55 230.62,125.77 231.25,127 231.88,126.35 232.52,125.68 233.15,124.91 233.78,126.29 234.42,127.66 235.05,127.09 235.68,126.52 236.31,125.95 236.95,126.37 237.58,126.78 238.21,127.2 238.85,126.81 239.48,126.42 240.11,126.16 240.74,125.89 241.38,126.98 242.01,128.08 242.64,127.38 243.28,126.67 243.91,128.11 244.54,129.54 245.17,128.54 245.81,127.31 246.44,127.42 247.07,127.52 247.71,127.81 248.34,128.1 248.97,128.39 249.6,127.95 250.24,127.64 250.87,127.33 251.5,128.25 252.14,129.16 252.77,130.07 253.4,130.03 254.03,129.63 254.67,128.84 255.3,128.05 255.93,128.17 256.57,128.29 257.2,128.42 257.83,127.22 258.46,126.37 259.1,127.17 259.73,127.97 260.36,128.77 261,127.91 261.63,127.04 262.26,128.16 262.89,129.29 263.53,130.43 264.16,130.48 264.79,130.53 265.43,130.58 266.06,130.11 266.69,129.63 267.32,130.18 267.96,130.73 268.59,130.61 269.22,130.5 269.86,131.74 270.49,132.99 271.12,133.2 271.75,133.41 272.39,133.62 273.02,133.17 273.65,132.71 274.29,132.25 274.92,132.08 275.55,131.76 276.18,131.42 276.82,131.09 277.45,132.71 278.08,134.34 278.72,132.73 279.35,131.29 279.98,132.5 280.62,133.71 281.25,134.92 281.88,134.29 282.51,133.66 283.15,133.31 283.78,132.8 284.41,132.3 285.05,132.92 285.68,133.54 286.31,133.04 286.94,132.53 287.58,132.19 288.21,133.31 288.84,134.42 289.48,133.87 290.11,133.33 290.74,132.78 291.37,134.33 292.01,135.78 292.64,136.1 293.27,136.43 293.91,136.75 294.54,136.34 295.17,135.94 295.8,135.59 296.44,136.14 297.07,136.7 297.7,137.26 298.34,137.11 298.97,136.97 299.6,136.83 300.23,138.02 300.87,138.94 301.5,137.69"/>
<path d="M76.2 152.5v-1.3M76.2 114.7v1.3M82.52 152.5v-1.3M82.52 114.7v1.3M88.85 152.5v-1.3M88.85 114.7v1.3M95.18 152.5v-1.3M95.18 114.7v1.3M101.51 152.5v-2.4M101.51 114.7v2.4M107.84 152.5v-1.3M107.84 114.7v1.3M114.17 152.5v-1.3M114.17 114.7v1.3M120.5 152.5v-1.3M120.5 114.7v1.3M126.83 152.5v-1.3M126.83 114.7v1.3M133.15 152.5v-2.4M133.15 114.7v2.4M139.48 152.5v-1.3M139.48 114.7v1.3M145.81 152.5v-1.3M145.81 114.7v1.3M152.14 152.5v-1.3M152.14 114.7v1.3M158.47 152.5v-1.3M158.47 114.7v1.3M164.8 152.5v-2.4M164.8 114.7v2.4M171.13 152.5v-1.3M171.13 114.7v1.3M177.46 152.5v-1.3M177.46 114.7v1.3M183.78 152.5v-1.3M183.78 114.7v1.3M190.11 152.5v-1.3M190.11 114.7v1.3M196.44 152.5v-2.4M196.44 114.7v2.4M202.77 152.5v-1.3M202.77 114.7v1.3M209.1 152.5v-1.3M209.1 114.7v1.3M215.43 152.5v-1.3M215.43 114.7v1.3M221.76 152.5v-1.3M221.76 114.7v1.3M228.09 152.5v-2.4M228.09 114.7v2.4M234.42 152.5v-1.3M234.42 114.7v1.3M240.74 152.5v-1.3M240.74 114.7v1.3M247.07 152.5v-1.3M247.07 114.7v1.3M253.4 152.5v-1.3M253.4 114.7v1.3M259.73 152.5v-2.4M259.73 114.7v2.4M266.06 152.5v-1.3M266.06 114.7v1.3M272.39 152.5v-1.3M272.39 114.7v1.3M278.72 152.5v-1.3M278.72 114.7v1.3M285.05 152.5v-1.3M285.05 114.7v1.3M291.37 152.5v-2.4M291.37 114.7v2.4M297.7 152.5v-1.3M297.7 114.7v1.3M70.5 146.2h1.3M301.5 146.2h-1.3M70.5 139.9h2.6M301.5 139.9h-2.6M70.5 133.6h1.3M301.5 133.6h-1.3M70.5 127.3h2.6M301.5 127.3h-2.6M70.5 121h1.3M301.5 121h-1.3" stroke="#1e1e1e" stroke-width="0.9" fill="none"/>
<rect x="70.5" y="114.7" width="231" height="37.8" fill="none" stroke="#1e1e1e" stroke-width="1"/>
<text x="74.5" y="128.15" font-size="11" fill="#111">(e)</text>
<text x="79" y="139.5" font-size="11" class="r">6.9</text>
<text x="128.8" y="139.5" font-size="11" class="r">8.6</text>
<text x="188" y="139.5" font-size="11" class="r">8.5</text>
<text x="245" y="139.5" font-size="11" class="r">7.8</text>
<polyline clip-path="url(#c21)" fill="none" stroke="#000" stroke-width="1.05" stroke-linejoin="round" points="313.5,130.48 314.13,129.06 314.77,127.64 315.4,128.38 316.03,129.51 316.66,130.03 317.3,130.54 317.93,129.84 318.56,128.89 319.2,129.49 319.83,130.08 320.46,130.11 321.09,130.14 321.73,129.61 322.36,129.47 322.99,128.52 323.63,127.57 324.26,128.13 324.89,128.45 325.52,128.89 326.16,129.34 326.79,128.52 327.42,127.71 328.06,127.46 328.69,127.66 329.32,127.94 329.95,127.13 330.59,128.55 331.22,129.81 331.85,128.82 332.49,127.82 333.12,126.27 333.75,127.74 334.38,126.14 335.02,127.4 335.65,128.62 336.28,128.58 336.92,128.53 337.55,128.49 338.18,127.53 338.82,126.57 339.45,125.63 340.08,126.64 340.71,127.66 341.35,127.88 341.98,128.89 342.61,127.91 343.25,126.92 343.88,127.66 344.51,128.13 345.14,128.6 345.78,126.6 346.41,124.6 347.04,125.91 347.68,127.22 348.31,126.36 348.94,125.4 349.57,125.39 350.21,125.38 350.84,124.51 351.47,124.86 352.11,124.33 352.74,123.8 353.37,126.44 354,129.09 354.64,125.83 355.27,126.47 355.9,127.1 356.54,127.73 357.17,127.17 357.8,126.61 358.43,126.04 359.07,126.11 359.7,126.18 360.33,125.2 360.97,124.22 361.6,124.64 362.23,125.07 362.86,125.63 363.5,124.97 364.13,124.32 364.76,123.66 365.4,124.74 366.03,125.82 366.66,126.11 367.29,126.25 367.93,126.34 368.56,125.96 369.19,125.58 369.83,126.27 370.46,126.97 371.09,125.99 371.72,125.01 372.36,124.58 372.99,125.39 373.62,126.2 374.26,125.26 374.89,124.32 375.52,125.57 376.15,126.94 376.79,126.91 377.42,125.86 378.05,124.81 378.69,125.94 379.32,127.08 379.95,127.96 380.58,126.79 381.22,125.62 381.85,124.46 382.48,124.79 383.12,125.13 383.75,125.48 384.38,124.44 385.02,123.4 385.65,124.67 386.28,125.94 386.91,123.83 387.55,125.69 388.18,127.43 388.81,125.67 389.45,123.92 390.08,124.45 390.71,124.99 391.34,125.52 391.98,124.13 392.61,122.83 393.24,123.03 393.88,123.23 394.51,123.43 395.14,124.64 395.77,125.84 396.41,124.29 397.04,122.65 397.67,121.84 398.31,122.69 398.94,123.53 399.57,121.29 400.2,122.67 400.84,124.05 401.47,120.48 402.1,121.71 402.74,122.95 403.37,121.25 404,122.04 404.63,122.84 405.27,121.49 405.9,120.23 406.53,122.02 407.17,123.8 407.8,122.42 408.43,121.03 409.06,122.2 409.7,123.01 410.33,123.82 410.96,122.79 411.6,121.75 412.23,120.72 412.86,121.67 413.49,122.64 414.13,120.9 414.76,119.16 415.39,120.72 416.03,122.29 416.66,120.94 417.29,119.59 417.92,119.39 418.56,119.26 419.19,120.3 419.82,121.35 420.46,120.58 421.09,119.81 421.72,120.76 422.35,121.76 422.99,122.76 423.62,121.27 424.25,119.78 424.89,120.6 425.52,121.42 426.15,122.44 426.78,122.78 427.42,123.12 428.05,124.13 428.68,123.5 429.32,122.88 429.95,123.32 430.58,123.77 431.22,122.34 431.85,120.91 432.48,121.98 433.11,122.96 433.75,120.95 434.38,121.56 435.01,122.16 435.65,121.63 436.28,121.1 436.91,120.61 437.54,120.3 438.18,121.26 438.81,122.22 439.44,122.18 440.08,122.15 440.71,122.06 441.34,121.8 441.97,121.54 442.61,122.58 443.24,123.62 443.87,122.69 444.51,121.76 445.14,122.67 445.77,123.82 446.4,122.3 447.04,120.78 447.67,121.21 448.3,121.64 448.94,122.07 449.57,123.33 450.2,122.46 450.83,121.59 451.47,123.21 452.1,124.83 452.73,123.54 453.37,122.38 454,126.81 454.63,127.73 455.26,128.65 455.9,127.48 456.53,125.47 457.16,124.38 457.8,124.24 458.43,120.98 459.06,122.8 459.69,124.63 460.33,124.07 460.96,123.51 461.59,125.38 462.23,123.48 462.86,124.17 463.49,124.86 464.12,123.83 464.76,122.79 465.39,124.26 466.02,123.5 466.66,122.87 467.29,124.01 467.92,125.16 468.55,123.93 469.19,122.71 469.82,121.48 470.45,123.01 471.09,123.83 471.72,124.66 472.35,123.71 472.98,122.76 473.62,123.29 474.25,123.82 474.88,123.99 475.52,122.37 476.15,122.72 476.78,123.07 477.42,123.42 478.05,122.21 478.68,121.05 479.31,122.46 479.95,123.86 480.58,122.69 481.21,121.51 481.85,122.32 482.48,123.13 483.11,123.89 483.74,124.45 484.38,123.25 485.01,122.05 485.64,121.68 486.28,121.32 486.91,121.55 487.54,123.65 488.17,121.79 488.81,119.93 489.44,121.21 490.07,122.5 490.71,120.97 491.34,119.63 491.97,122.58 492.6,125.54 493.24,126.06 493.87,125.18 494.5,123.87 495.14,124.54 495.77,125.22 496.4,125.89 497.03,124.56 497.67,123.6 498.3,123.24 498.93,124.21 499.57,125.18 500.2,126.14 500.83,125.44 501.46,126.62 502.1,127.33 502.73,124.86 503.36,125.16 504,125.46 504.63,124.25 505.26,123.04 505.89,123.06 506.53,123.93 507.16,123.55 507.79,123.16 508.43,125.39 509.06,125.26 509.69,125.13 510.32,125.78 510.96,126.28 511.59,125.92 512.22,126.78 512.86,127.65 513.49,127.33 514.12,127.02 514.75,126.14 515.39,126.11 516.02,126.09 516.65,126.22 517.29,125.9 517.92,125.59 518.55,126.53 519.18,127.47 519.82,126.3 520.45,125.14 521.08,126.02 521.72,126.57 522.35,127.12 522.98,126.48 523.62,125.84 524.25,126.62 524.88,127.4 525.51,125.98 526.15,124.62 526.78,125.94 527.41,127.26 528.05,128.52 528.68,126.85 529.31,125.15 529.94,125.18 530.58,125.21 531.21,125.24 531.84,125.93 532.48,126.62 533.11,125.99 533.74,125.57 534.37,125.41 535.01,126.78 535.64,128.15 536.27,127.77 536.91,127.39 537.54,127.01 538.17,128.24 538.8,129.49 539.44,130.08 540.07,130.66 540.7,128.4 541.34,129.76 541.97,131.1 542.6,130.82 543.23,130.55 543.87,130.28 544.5,133.08"/>
<path d="M319.2 153.1v-1.3M319.2 115.8v1.3M325.52 153.1v-1.3M325.52 115.8v1.3M331.85 153.1v-1.3M331.85 115.8v1.3M338.18 153.1v-1.3M338.18 115.8v1.3M344.51 153.1v-2.4M344.51 115.8v2.4M350.84 153.1v-1.3M350.84 115.8v1.3M357.17 153.1v-1.3M357.17 115.8v1.3M363.5 153.1v-1.3M363.5 115.8v1.3M369.83 153.1v-1.3M369.83 115.8v1.3M376.15 153.1v-2.4M376.15 115.8v2.4M382.48 153.1v-1.3M382.48 115.8v1.3M388.81 153.1v-1.3M388.81 115.8v1.3M395.14 153.1v-1.3M395.14 115.8v1.3M401.47 153.1v-1.3M401.47 115.8v1.3M407.8 153.1v-2.4M407.8 115.8v2.4M414.13 153.1v-1.3M414.13 115.8v1.3M420.46 153.1v-1.3M420.46 115.8v1.3M426.78 153.1v-1.3M426.78 115.8v1.3M433.11 153.1v-1.3M433.11 115.8v1.3M439.44 153.1v-2.4M439.44 115.8v2.4M445.77 153.1v-1.3M445.77 115.8v1.3M452.1 153.1v-1.3M452.1 115.8v1.3M458.43 153.1v-1.3M458.43 115.8v1.3M464.76 153.1v-1.3M464.76 115.8v1.3M471.09 153.1v-2.4M471.09 115.8v2.4M477.42 153.1v-1.3M477.42 115.8v1.3M483.74 153.1v-1.3M483.74 115.8v1.3M490.07 153.1v-1.3M490.07 115.8v1.3M496.4 153.1v-1.3M496.4 115.8v1.3M502.73 153.1v-2.4M502.73 115.8v2.4M509.06 153.1v-1.3M509.06 115.8v1.3M515.39 153.1v-1.3M515.39 115.8v1.3M521.72 153.1v-1.3M521.72 115.8v1.3M528.05 153.1v-1.3M528.05 115.8v1.3M534.37 153.1v-2.4M534.37 115.8v2.4M540.7 153.1v-1.3M540.7 115.8v1.3M313.5 145.64h2.6M544.5 145.64h-2.6M313.5 138.18h1.3M544.5 138.18h-1.3M313.5 130.72h2.6M544.5 130.72h-2.6M313.5 123.26h1.3M544.5 123.26h-1.3" stroke="#1e1e1e" stroke-width="0.9" fill="none"/>
<rect x="313.5" y="115.8" width="231" height="37.3" fill="none" stroke="#1e1e1e" stroke-width="1"/>
<text x="316.9" y="126.6" font-size="11" fill="#111">(f)</text>
<text x="322.4" y="139.5" font-size="11" class="r">3.1</text>
<text x="370" y="139.5" font-size="11" class="r">3.3</text>
<text x="427.5" y="139.5" font-size="11" class="r">3.5</text>
<text x="487.3" y="139.5" font-size="11" class="r">3.4</text>
<text x="68.6" y="118.9" font-size="11" text-anchor="end" fill="#111">10</text>
<text x="68.6" y="131.5" font-size="11" text-anchor="end" fill="#111">8</text>
<text x="68.6" y="144.1" font-size="11" text-anchor="end" fill="#111">6</text>
<text x="68.6" y="156.7" font-size="11" text-anchor="end" fill="#111">4</text>
<text x="311.3" y="120.2" font-size="11" text-anchor="end" fill="#111">4</text>
<text x="311.3" y="135.12" font-size="11" text-anchor="end" fill="#111">3</text>
<text x="311.3" y="150.04" font-size="11" text-anchor="end" fill="#111">2</text>
<text x="44.9" y="129.3" font-size="6.6" text-anchor="middle" class="s">The Indian</text>
<text x="44" y="137.1" font-size="6.6" text-anchor="middle" class="s">Ocean</text>
<polyline clip-path="url(#c30)" fill="none" stroke="#000" stroke-width="1.05" stroke-linejoin="round" points="70.5,189.06 71.13,188.36 71.77,187.67 72.4,186.97 73.03,187.36 73.66,187.75 74.3,188.12 74.93,187.43 75.56,186.75 76.2,186.07 76.83,185.94 77.46,185.81 78.09,185.69 78.73,185.43 79.36,185.28 79.99,185.27 80.63,185.26 81.26,185.25 81.89,184.73 82.52,184.21 83.16,184.58 83.79,184.94 84.42,185.3 85.06,184.86 85.69,184.41 86.32,183.97 86.95,184.06 87.59,184.09 88.22,184.13 88.85,184.21 89.49,184.29 90.12,184.36 90.75,183.42 91.38,182.43 92.02,182.58 92.65,182.72 93.28,182.86 93.92,181.95 94.55,181.03 95.18,180.11 95.82,180.51 96.45,180.93 97.08,180.97 97.71,181.02 98.35,181.06 98.98,180.59 99.61,180.13 100.25,179.7 100.88,180.39 101.51,181.07 102.14,181.29 102.78,181.51 103.41,181.05 104.04,180.48 104.68,180.29 105.31,180.09 105.94,179.9 106.57,179.17 107.21,178.45 107.84,177.72 108.47,177.73 109.11,177.73 109.74,177.74 110.37,178.2 111,178.32 111.64,178.44 112.27,179.33 112.9,179.53 113.54,178.86 114.17,178.19 114.8,177.52 115.43,177.76 116.07,177.99 116.7,178.2 117.33,177.61 117.97,177.02 118.6,176.43 119.23,176.81 119.86,177.2 120.5,177.59 121.13,177.24 121.76,176.96 122.4,176.68 123.03,177.09 123.66,177.49 124.29,177.89 124.93,177.65 125.56,177.11 126.19,176.57 126.83,176.71 127.46,176.85 128.09,177 128.72,176.01 129.36,175.17 129.99,175.18 130.62,175.19 131.26,175.77 131.89,176.35 132.52,176.93 133.15,176.42 133.79,175.62 134.42,174.76 135.05,175.52 135.69,176.28 136.32,175.62 136.95,174.95 137.58,174.29 138.22,174.44 138.85,174.6 139.48,174.75 140.12,174.26 140.75,173.78 141.38,173.29 142.02,173.18 142.65,173.27 143.28,173.35 143.91,174.58 144.55,175.81 145.18,175.4 145.81,174.98 146.45,174.45 147.08,175.14 147.71,175.82 148.34,176.5 148.98,176.12 149.61,175.74 150.24,175.69 150.88,175.43 151.51,175.16 152.14,175.57 152.77,175.97 153.41,175.12 154.04,174.26 154.67,175.25 155.31,176.56 155.94,177.87 156.57,177.45 157.2,177.04 157.84,176.63 158.47,177.76 159.1,178.11 159.74,178.29 160.37,177.19 161,176.09 161.63,174.99 162.27,174.98 162.9,175.1 163.53,175.89 164.17,175.56 164.8,175.23 165.43,175.95 166.06,176.67 166.7,177.39 167.33,176.68 167.96,175.85 168.6,176.99 169.23,178.13 169.86,177.6 170.49,177.08 171.13,176.55 171.76,177.34 172.39,178.08 173.03,176.75 173.66,175.42 174.29,175.75 174.92,176.07 175.56,176.49 176.19,175.94 176.82,175.4 177.46,176.12 178.09,176.85 178.72,177.57 179.35,178.01 179.99,178.19 180.62,178.09 181.25,177.55 181.89,177 182.52,176.46 183.15,176.67 183.78,176.88 184.42,177.28 185.05,176.77 185.68,176.27 186.32,176.02 186.95,175.83 187.58,175.65 188.22,176.99 188.85,178.33 189.48,177.91 190.11,177.49 190.75,176.77 191.38,176.45 192.01,176.12 192.65,176.32 193.28,176.51 193.91,176.71 194.54,176.16 195.18,175.92 195.81,175.9 196.44,175.88 197.08,176.66 197.71,177.45 198.34,177.89 198.97,178.17 199.61,178.3 200.24,177.04 200.87,175.78 201.51,176.08 202.14,176.38 202.77,176.68 203.4,176.42 204.04,176.23 204.67,176.04 205.3,176.89 205.94,177.74 206.57,177.1 207.2,176.36 207.83,176.53 208.47,176.7 209.1,176.87 209.73,175.89 210.37,174.9 211,175.39 211.63,175.95 212.26,174.93 212.9,173.9 213.53,174.14 214.16,174.38 214.8,174.62 215.43,173.97 216.06,173.69 216.69,173.65 217.33,173.6 217.96,173.56 218.59,174.2 219.23,174.85 219.86,175.48 220.49,174.38 221.12,173.28 221.76,174.09 222.39,174.89 223.02,175.7 223.66,175.42 224.29,175.44 224.92,176.28 225.55,177.12 226.19,177.78 226.82,176.97 227.45,176.17 228.09,176.17 228.72,176.18 229.35,176.2 229.98,175.21 230.62,174.21 231.25,173.22 231.88,173.79 232.52,174.47 233.15,175.16 233.78,176.39 234.42,177.63 235.05,177.18 235.68,176.65 236.31,176.12 236.95,176.38 237.58,176.64 238.21,176.13 238.85,175.61 239.48,175.09 240.11,175.39 240.74,175.7 241.38,176 242.01,175.45 242.64,174.89 243.28,174.36 243.91,174.52 244.54,174.68 245.17,174.84 245.81,174.49 246.44,174.14 247.07,174.36 247.71,174.86 248.34,175.39 248.97,175.98 249.6,176.57 250.24,176.88 250.87,177.19 251.5,177.48 252.14,177.07 252.77,176.66 253.4,176.25 254.03,177.16 254.67,178.06 255.3,178.96 255.93,178.37 256.57,177.68 257.2,177 257.83,177.22 258.46,177.43 259.1,177.26 259.73,177.08 260.36,177.67 261,178.28 261.63,178.89 262.26,177.94 262.89,176.99 263.53,176.03 264.16,177.09 264.79,178.1 265.43,179.11 266.06,178.64 266.69,178.17 267.32,177.71 267.96,178.3 268.59,178.91 269.22,179.53 269.86,179.21 270.49,178.88 271.12,179.25 271.75,179.62 272.39,179.99 273.02,179.24 273.65,178.44 274.29,178.43 274.92,178.79 275.55,178.86 276.18,178.93 276.82,179.89 277.45,180.85 278.08,180.47 278.72,180.08 279.35,181.18 279.98,182.23 280.62,183.28 281.25,182.67 281.88,182.07 282.51,181.46 283.15,181.39 283.78,181.37 284.41,182.33 285.05,183.28 285.68,183.18 286.31,183.09 286.94,182.99 287.58,183.05 288.21,183.15 288.84,183.25 289.48,184.18 290.11,185.11 290.74,184.88 291.37,184.64 292.01,184.45 292.64,185.61 293.27,186.76 293.91,187.08 294.54,187.4 295.17,187.22 295.8,186.95 296.44,186.36 297.07,186.26 297.7,186.17 298.34,186.07 298.97,186.57 299.6,187.06 300.23,187.5 300.87,187.17 301.5,186.83"/>
<path d="M76.2 200.6v-1.3M76.2 161.8v1.3M82.52 200.6v-1.3M82.52 161.8v1.3M88.85 200.6v-1.3M88.85 161.8v1.3M95.18 200.6v-1.3M95.18 161.8v1.3M101.51 200.6v-2.4M101.51 161.8v2.4M107.84 200.6v-1.3M107.84 161.8v1.3M114.17 200.6v-1.3M114.17 161.8v1.3M120.5 200.6v-1.3M120.5 161.8v1.3M126.83 200.6v-1.3M126.83 161.8v1.3M133.15 200.6v-2.4M133.15 161.8v2.4M139.48 200.6v-1.3M139.48 161.8v1.3M145.81 200.6v-1.3M145.81 161.8v1.3M152.14 200.6v-1.3M152.14 161.8v1.3M158.47 200.6v-1.3M158.47 161.8v1.3M164.8 200.6v-2.4M164.8 161.8v2.4M171.13 200.6v-1.3M171.13 161.8v1.3M177.46 200.6v-1.3M177.46 161.8v1.3M183.78 200.6v-1.3M183.78 161.8v1.3M190.11 200.6v-1.3M190.11 161.8v1.3M196.44 200.6v-2.4M196.44 161.8v2.4M202.77 200.6v-1.3M202.77 161.8v1.3M209.1 200.6v-1.3M209.1 161.8v1.3M215.43 200.6v-1.3M215.43 161.8v1.3M221.76 200.6v-1.3M221.76 161.8v1.3M228.09 200.6v-2.4M228.09 161.8v2.4M234.42 200.6v-1.3M234.42 161.8v1.3M240.74 200.6v-1.3M240.74 161.8v1.3M247.07 200.6v-1.3M247.07 161.8v1.3M253.4 200.6v-1.3M253.4 161.8v1.3M259.73 200.6v-2.4M259.73 161.8v2.4M266.06 200.6v-1.3M266.06 161.8v1.3M272.39 200.6v-1.3M272.39 161.8v1.3M278.72 200.6v-1.3M278.72 161.8v1.3M285.05 200.6v-1.3M285.05 161.8v1.3M291.37 200.6v-2.4M291.37 161.8v2.4M297.7 200.6v-1.3M297.7 161.8v1.3M70.5 194.13h1.3M301.5 194.13h-1.3M70.5 187.67h2.6M301.5 187.67h-2.6M70.5 181.2h1.3M301.5 181.2h-1.3M70.5 174.73h2.6M301.5 174.73h-2.6M70.5 168.27h1.3M301.5 168.27h-1.3" stroke="#1e1e1e" stroke-width="0.9" fill="none"/>
<rect x="70.5" y="161.8" width="231" height="38.8" fill="none" stroke="#1e1e1e" stroke-width="1"/>
<text x="74.9" y="176.7" font-size="11" fill="#111">(g)</text>
<text x="79" y="188" font-size="11" class="r">6.5</text>
<text x="128.8" y="188" font-size="11" class="r">7.7</text>
<text x="189.5" y="188" font-size="11" class="r">7.7</text>
<text x="245.5" y="188" font-size="11" class="r">7.6</text>
<polyline clip-path="url(#c31)" fill="none" stroke="#000" stroke-width="1.05" stroke-linejoin="round" points="313.5,185.64 314.13,183.86 314.77,184.69 315.4,185.48 316.03,182.86 316.66,185.01 317.3,184.24 317.93,183.48 318.56,184.04 319.2,184.55 319.83,183.9 320.46,183.25 321.09,181.74 321.73,180.23 322.36,181.56 322.99,183.16 323.63,181.1 324.26,179.03 324.89,180.14 325.52,181.25 326.16,181.32 326.79,181.37 327.42,181.07 328.06,180.77 328.69,181.48 329.32,182.19 329.95,181.36 330.59,180.54 331.22,181.53 331.85,182.68 332.49,180.63 333.12,181.01 333.75,181.39 334.38,181.77 335.02,181.04 335.65,180.07 336.28,180.97 336.92,181.88 337.55,180.69 338.18,181.3 338.82,181.58 339.45,181.87 340.08,181.96 340.71,182.04 341.35,178.49 341.98,180.71 342.61,180.96 343.25,181.22 343.88,181.34 344.51,180.31 345.14,179.29 345.78,178.26 346.41,179.75 347.04,181.24 347.68,180.4 348.31,179.63 348.94,178.42 349.57,177.22 350.21,177.86 350.84,178.51 351.47,179.16 352.11,177.94 352.74,177.38 353.37,179.68 354,180.76 354.64,181.84 355.27,181.19 355.9,180.54 356.54,182.29 357.17,183.47 357.8,182.27 358.43,181.06 359.07,179.87 359.7,178.69 360.33,179.76 360.97,181 361.6,180.59 362.23,180.18 362.86,179.77 363.5,178.77 364.13,177.78 364.76,176.81 365.4,178.27 366.03,179.73 366.66,177.5 367.29,178.88 367.93,180.26 368.56,179.4 369.19,178.37 369.83,179.28 370.46,180.18 371.09,178.11 371.72,178.66 372.36,179.22 372.99,177.84 373.62,176.75 374.26,177.89 374.89,179.04 375.52,178.57 376.15,178.09 376.79,179.34 377.42,181.07 378.05,179.63 378.69,178.18 379.32,178.67 379.95,179.16 380.58,176.43 381.22,177.24 381.85,177.65 382.48,175.58 383.12,173.52 383.75,172.21 384.38,173.45 385.02,174.69 385.65,177.15 386.28,178.38 386.91,176.65 387.55,177.85 388.18,179.04 388.81,177.41 389.45,175.78 390.08,176.69 390.71,174.52 391.34,175.93 391.98,177.34 392.61,178.75 393.24,177.6 393.88,178.51 394.51,179.2 395.14,179.61 395.77,180.02 396.41,176.32 397.04,176.57 397.67,176.82 398.31,176.03 398.94,176.24 399.57,177.76 400.2,179.27 400.84,180.79 401.47,180.92 402.1,181.12 402.74,180.81 403.37,180.5 404,177.67 404.63,174.85 405.27,177.33 405.9,176.38 406.53,175.43 407.17,174.48 407.8,174.88 408.43,175.29 409.06,173.94 409.7,173.18 410.33,174.15 410.96,175.12 411.6,175.25 412.23,175.38 412.86,175.52 413.49,175.24 414.13,174.79 414.76,174.34 415.39,174.78 416.03,175.22 416.66,174.31 417.29,173.4 417.92,174.5 418.56,175.68 419.19,175.07 419.82,174.46 420.46,175.74 421.09,177.02 421.72,176.72 422.35,176.53 422.99,177.7 423.62,177.7 424.25,177.7 424.89,178.64 425.52,179.57 426.15,178.44 426.78,176.34 427.42,175.04 428.05,173.87 428.68,174.16 429.32,175.67 429.95,177.17 430.58,177.09 431.22,177 431.85,176.92 432.48,176.15 433.11,174.91 433.75,175.65 434.38,176.38 435.01,175.24 435.65,174.11 436.28,174.22 436.91,174.92 437.54,174.27 438.18,173.62 438.81,174.47 439.44,175.31 440.08,175.16 440.71,174.98 441.34,174.37 441.97,176.12 442.61,177.87 443.24,175.87 443.87,173.86 444.51,175.09 445.14,176.22 445.77,173.96 446.4,172.54 447.04,171.12 447.67,171.34 448.3,172.08 448.94,173.56 449.57,175.6 450.2,177.64 450.83,176.86 451.47,175.49 452.1,175.62 452.73,175.74 453.37,173.81 454,174.59 454.63,175.37 455.26,173.34 455.9,171.98 456.53,173.27 457.16,174.55 457.8,175.84 458.43,175.82 459.06,175.81 459.69,175.97 460.33,175.78 460.96,175.59 461.59,176.56 462.23,174.79 462.86,173.02 463.49,175.73 464.12,173.5 464.76,175.96 465.39,175.94 466.02,178.15 466.66,176.7 467.29,175.26 467.92,177.05 468.55,178.65 469.19,178.31 469.82,177.98 470.45,180.82 471.09,181.21 471.72,180.41 472.35,179.24 472.98,172.98 473.62,172.52 474.25,172.07 474.88,172.44 475.52,173.34 476.15,174.25 476.78,176.03 477.42,177.8 478.05,178.03 478.68,178.06 479.31,178.09 479.95,177.34 480.58,176.59 481.21,177.46 481.85,178.33 482.48,176.79 483.11,176.63 483.74,176.47 484.38,177.74 485.01,178.99 485.64,177.45 486.28,175.9 486.91,176.73 487.54,177.55 488.17,178.37 488.81,177.31 489.44,176.25 490.07,178.7 490.71,178.44 491.34,178.17 491.97,177.9 492.6,177.07 493.24,176.24 493.87,174.9 494.5,175.23 495.14,175.57 495.77,174.71 496.4,174.93 497.03,176.61 497.67,178.28 498.3,178.68 498.93,178.25 499.57,178.04 500.2,177.84 500.83,176.45 501.46,175.07 502.1,174.13 502.73,175.35 503.36,176.57 504,175.27 504.63,176.03 505.26,176.79 505.89,175.56 506.53,173.99 507.16,176.67 507.79,175.14 508.43,173.62 509.06,174.91 509.69,176.2 510.32,175.99 510.96,176.18 511.59,175.1 512.22,174.03 512.86,175.68 513.49,177.34 514.12,177.18 514.75,176.89 515.39,176.84 516.02,176.79 516.65,176.73 517.29,176.99 517.92,177.24 518.55,176.24 519.18,175.47 519.82,176.43 520.45,177.39 521.08,177.86 521.72,177.07 522.35,176.28 522.98,176.46 523.62,176.35 524.25,177.23 524.88,178.1 525.51,177.53 526.15,176.95 526.78,177.46 527.41,178.12 528.05,178.27 528.68,178.42 529.31,180.24 529.94,179.06 530.58,177.89 531.21,180.2 531.84,179.37 532.48,178.49 533.11,179.1 533.74,179.14 534.37,179.18 535.01,179.52 535.64,179.95 536.27,181.13 536.91,180.99 537.54,180.85 538.17,183.16 538.8,185.33 539.44,183.49 540.07,181.66 540.7,180.86 541.34,180.07 541.97,182.28 542.6,181.92 543.23,181.57 543.87,181.21 544.5,181.98"/>
<path d="M319.2 201.2v-1.3M319.2 162.6v1.3M325.52 201.2v-1.3M325.52 162.6v1.3M331.85 201.2v-1.3M331.85 162.6v1.3M338.18 201.2v-1.3M338.18 162.6v1.3M344.51 201.2v-2.4M344.51 162.6v2.4M350.84 201.2v-1.3M350.84 162.6v1.3M357.17 201.2v-1.3M357.17 162.6v1.3M363.5 201.2v-1.3M363.5 162.6v1.3M369.83 201.2v-1.3M369.83 162.6v1.3M376.15 201.2v-2.4M376.15 162.6v2.4M382.48 201.2v-1.3M382.48 162.6v1.3M388.81 201.2v-1.3M388.81 162.6v1.3M395.14 201.2v-1.3M395.14 162.6v1.3M401.47 201.2v-1.3M401.47 162.6v1.3M407.8 201.2v-2.4M407.8 162.6v2.4M414.13 201.2v-1.3M414.13 162.6v1.3M420.46 201.2v-1.3M420.46 162.6v1.3M426.78 201.2v-1.3M426.78 162.6v1.3M433.11 201.2v-1.3M433.11 162.6v1.3M439.44 201.2v-2.4M439.44 162.6v2.4M445.77 201.2v-1.3M445.77 162.6v1.3M452.1 201.2v-1.3M452.1 162.6v1.3M458.43 201.2v-1.3M458.43 162.6v1.3M464.76 201.2v-1.3M464.76 162.6v1.3M471.09 201.2v-2.4M471.09 162.6v2.4M477.42 201.2v-1.3M477.42 162.6v1.3M483.74 201.2v-1.3M483.74 162.6v1.3M490.07 201.2v-1.3M490.07 162.6v1.3M496.4 201.2v-1.3M496.4 162.6v1.3M502.73 201.2v-2.4M502.73 162.6v2.4M509.06 201.2v-1.3M509.06 162.6v1.3M515.39 201.2v-1.3M515.39 162.6v1.3M521.72 201.2v-1.3M521.72 162.6v1.3M528.05 201.2v-1.3M528.05 162.6v1.3M534.37 201.2v-2.4M534.37 162.6v2.4M540.7 201.2v-1.3M540.7 162.6v1.3M313.5 193.48h2.6M544.5 193.48h-2.6M313.5 185.76h1.3M544.5 185.76h-1.3M313.5 178.04h2.6M544.5 178.04h-2.6M313.5 170.32h1.3M544.5 170.32h-1.3" stroke="#1e1e1e" stroke-width="0.9" fill="none"/>
<rect x="313.5" y="162.6" width="231" height="38.6" fill="none" stroke="#1e1e1e" stroke-width="1"/>
<text x="317.3" y="177.7" font-size="11" fill="#111">(h)</text>
<text x="322.4" y="187.6" font-size="11" class="r">2.8</text>
<text x="370" y="187.6" font-size="11" class="r">3.0</text>
<text x="427.5" y="187.6" font-size="11" class="r">3.1</text>
<text x="487.3" y="187.6" font-size="11" class="r">3.1</text>
<text x="68.6" y="166" font-size="11" text-anchor="end" fill="#111">10</text>
<text x="68.6" y="178.93" font-size="11" text-anchor="end" fill="#111">8</text>
<text x="68.6" y="191.87" font-size="11" text-anchor="end" fill="#111">6</text>
<text x="68.6" y="204.8" font-size="11" text-anchor="end" fill="#111">4</text>
<text x="311.3" y="167" font-size="11" text-anchor="end" fill="#111">4</text>
<text x="311.3" y="182.44" font-size="11" text-anchor="end" fill="#111">3</text>
<text x="311.3" y="197.88" font-size="11" text-anchor="end" fill="#111">2</text>
<text x="42.3" y="178.8" font-size="6.6" text-anchor="middle" class="s">The Atlantic</text>
<text x="43.45" y="186.7" font-size="6.6" text-anchor="middle" class="s">Ocean</text>
<polyline clip-path="url(#c40)" fill="none" stroke="#000" stroke-width="1.05" stroke-linejoin="round" points="70.5,229.52 71.13,229.35 71.77,229.19 72.4,229.02 73.03,228.85 73.66,229.24 74.3,229.56 74.93,229.89 75.56,230.19 76.2,230.49 76.83,230.59 77.46,229.4 78.09,228.2 78.73,228.17 79.36,228.13 79.99,228.2 80.63,227.64 81.26,227.08 81.89,226.52 82.52,225.96 83.16,226.28 83.79,226.68 84.42,227.32 85.06,227.97 85.69,228.19 86.32,228.41 86.95,228.59 87.59,228.47 88.22,227.85 88.85,227.23 89.49,226.61 90.12,225.99 90.75,225.96 91.38,225.69 92.02,225.15 92.65,224.61 93.28,223.7 93.92,223.84 94.55,223.97 95.18,224.63 95.82,224.81 96.45,224.86 97.08,224.41 97.71,223.95 98.35,223.5 98.98,223.04 99.61,223.42 100.25,223.66 100.88,223.9 101.51,223.6 102.14,223.3 102.78,223 103.41,222.7 104.04,222.01 104.68,221.54 105.31,221.06 105.94,221.43 106.57,221.79 107.21,222.16 107.84,222.08 108.47,221.72 109.11,221.3 109.74,221.8 110.37,222.3 111,221.57 111.64,220.85 112.27,220.38 112.9,219.97 113.54,219.56 114.17,219.21 114.8,218.86 115.43,218.51 116.07,218.76 116.7,219.03 117.33,219.31 117.97,218.95 118.6,218.59 119.23,218.23 119.86,218.08 120.5,217.93 121.13,217.97 121.76,217.88 122.4,217.79 123.03,217.7 123.66,217.99 124.29,218.28 124.93,218.55 125.56,218.65 126.19,218.27 126.83,217.9 127.46,217.53 128.09,217.15 128.72,217.32 129.36,217.59 129.99,217.95 130.62,218.31 131.26,218.07 131.89,217.82 132.52,217.58 133.15,218.13 133.79,218.51 134.42,218.84 135.05,219.17 135.69,218.92 136.32,218.66 136.95,218.41 137.58,218.16 138.22,217.63 138.85,217.09 139.48,216.55 140.12,216.01 140.75,216.44 141.38,216.87 142.02,217.39 142.65,217.13 143.28,216.86 143.91,216.6 144.55,216.93 145.18,217.26 145.81,217.59 146.45,217.39 147.08,217.19 147.71,217 148.34,216.93 148.98,216.87 149.61,216.8 150.24,216.71 150.88,217.13 151.51,217.56 152.14,217.99 152.77,218.07 153.41,218.16 154.04,218.24 154.67,217.63 155.31,217.02 155.94,216.41 156.57,216.22 157.2,216.03 157.84,215.84 158.47,216.33 159.1,217.05 159.74,216.75 160.37,216.46 161,217.59 161.63,218.73 162.27,218.23 162.9,217.68 163.53,218.01 164.17,218.33 164.8,218.01 165.43,217.69 166.06,217.36 166.7,217.56 167.33,217.74 167.96,216.98 168.6,216.23 169.23,215.47 169.86,215.83 170.49,216.19 171.13,216.55 171.76,217.25 172.39,216.91 173.03,216.56 173.66,216.21 174.29,217.59 174.92,218.97 175.56,218.92 176.19,218.58 176.82,218.25 177.46,217.91 178.09,217.51 178.72,217.1 179.35,216.7 179.99,217.14 180.62,217.66 181.25,218.19 181.89,217.98 182.52,217.77 183.15,217.56 183.78,217.85 184.42,217.84 185.05,217.77 185.68,217.71 186.32,217.35 186.95,217.07 187.58,216.79 188.22,216.51 188.85,216.42 189.48,216.33 190.11,216.42 190.75,216.52 191.38,216.61 192.01,216.71 192.65,216.31 193.28,215.91 193.91,215.51 194.54,215.15 195.18,215.87 195.81,216.58 196.44,217.29 197.08,218.01 197.71,217.21 198.34,216.41 198.97,216.87 199.61,217.12 200.24,217.37 200.87,216.37 201.51,215.37 202.14,215.17 202.77,214.97 203.4,214.85 204.04,214.99 204.67,215.14 205.3,215.28 205.94,215.43 206.57,214.73 207.2,214.09 207.83,213.71 208.47,214.45 209.1,215.2 209.73,215.94 210.37,215.43 211,214.92 211.63,215.32 212.26,215.56 212.9,215.81 213.53,215.48 214.16,215.15 214.8,214.83 215.43,214.5 216.06,214.21 216.69,213.98 217.33,214.77 217.96,215.56 218.59,216.35 219.23,216.03 219.86,215.62 220.49,214.85 221.12,214.88 221.76,214.92 222.39,214.95 223.02,214.98 223.66,214.6 224.29,214.41 224.92,214.67 225.55,214.92 226.19,215.17 226.82,215.43 227.45,215.32 228.09,215.22 228.72,214.93 229.35,214.61 229.98,214.79 230.62,214.98 231.25,215.17 231.88,215.35 232.52,215.17 233.15,215.22 233.78,215.26 234.42,215.31 235.05,215.97 235.68,216.63 236.31,216.48 236.95,216.29 237.58,216.72 238.21,217.14 238.85,217.57 239.48,217.41 240.11,217.25 240.74,217.1 241.38,217.32 242.01,217.54 242.64,217.75 243.28,217.56 243.91,217.37 244.54,217.19 245.17,217.01 245.81,217.41 246.44,217.82 247.07,218.16 247.71,218.5 248.34,218.84 248.97,219.12 249.6,219.4 250.24,219.68 250.87,219.2 251.5,218.73 252.14,218.25 252.77,217.78 253.4,218.3 254.03,218.85 254.67,219.4 255.3,219.4 255.93,219.4 256.57,219.39 257.2,219.52 257.83,219.61 258.46,219.54 259.1,219.92 259.73,220.3 260.36,219.96 261,219.63 261.63,219.3 262.26,219.6 262.89,220.02 263.53,220.43 264.16,220.84 264.79,220.99 265.43,221.14 266.06,221.29 266.69,221.71 267.32,221.27 267.96,220.82 268.59,221.84 269.22,222.86 269.86,223.88 270.49,224.83 271.12,224.65 271.75,224.46 272.39,224.28 273.02,224.09 273.65,224.59 274.29,225.09 274.92,225.76 275.55,225.79 276.18,225.82 276.82,225.84 277.45,226.68 278.08,227.51 278.72,228.34 279.35,227.7 279.98,226.95 280.62,226.2 281.25,226.35 281.88,226.5 282.51,226.65 283.15,225.87 283.78,225.57 284.41,225.26 285.05,225.91 285.68,226.56 286.31,227.21 286.94,227.86 287.58,227.88 288.21,227.95 288.84,228.01 289.48,228.08 290.11,228.65 290.74,229.22 291.37,229.79 292.01,229.71 292.64,229.57 293.27,229.44 293.91,228.8 294.54,228.16 295.17,227.51 295.8,227.86 296.44,228.37 297.07,228.8 297.7,229.22 298.34,229.64 298.97,229.2 299.6,228.76 300.23,228.38 300.87,228.74 301.5,229.1"/>
<path d="M76.2 249.2v-1.3M76.2 210.4v1.3M82.52 249.2v-1.3M82.52 210.4v1.3M88.85 249.2v-1.3M88.85 210.4v1.3M95.18 249.2v-1.3M95.18 210.4v1.3M101.51 249.2v-2.4M101.51 210.4v2.4M107.84 249.2v-1.3M107.84 210.4v1.3M114.17 249.2v-1.3M114.17 210.4v1.3M120.5 249.2v-1.3M120.5 210.4v1.3M126.83 249.2v-1.3M126.83 210.4v1.3M133.15 249.2v-2.4M133.15 210.4v2.4M139.48 249.2v-1.3M139.48 210.4v1.3M145.81 249.2v-1.3M145.81 210.4v1.3M152.14 249.2v-1.3M152.14 210.4v1.3M158.47 249.2v-1.3M158.47 210.4v1.3M164.8 249.2v-2.4M164.8 210.4v2.4M171.13 249.2v-1.3M171.13 210.4v1.3M177.46 249.2v-1.3M177.46 210.4v1.3M183.78 249.2v-1.3M183.78 210.4v1.3M190.11 249.2v-1.3M190.11 210.4v1.3M196.44 249.2v-2.4M196.44 210.4v2.4M202.77 249.2v-1.3M202.77 210.4v1.3M209.1 249.2v-1.3M209.1 210.4v1.3M215.43 249.2v-1.3M215.43 210.4v1.3M221.76 249.2v-1.3M221.76 210.4v1.3M228.09 249.2v-2.4M228.09 210.4v2.4M234.42 249.2v-1.3M234.42 210.4v1.3M240.74 249.2v-1.3M240.74 210.4v1.3M247.07 249.2v-1.3M247.07 210.4v1.3M253.4 249.2v-1.3M253.4 210.4v1.3M259.73 249.2v-2.4M259.73 210.4v2.4M266.06 249.2v-1.3M266.06 210.4v1.3M272.39 249.2v-1.3M272.39 210.4v1.3M278.72 249.2v-1.3M278.72 210.4v1.3M285.05 249.2v-1.3M285.05 210.4v1.3M291.37 249.2v-2.4M291.37 210.4v2.4M297.7 249.2v-1.3M297.7 210.4v1.3M70.5 242.73h1.3M301.5 242.73h-1.3M70.5 236.27h2.6M301.5 236.27h-2.6M70.5 229.8h1.3M301.5 229.8h-1.3M70.5 223.33h2.6M301.5 223.33h-2.6M70.5 216.87h1.3M301.5 216.87h-1.3" stroke="#1e1e1e" stroke-width="0.9" fill="none"/>
<rect x="70.5" y="210.4" width="231" height="38.8" fill="none" stroke="#1e1e1e" stroke-width="1"/>
<text x="73.7" y="224.15" font-size="11" fill="#111">(i)</text>
<text x="79" y="235.5" font-size="11" class="r">7.4</text>
<text x="128.8" y="235.5" font-size="11" class="r">8.9</text>
<text x="189" y="235.5" font-size="11" class="r">9.1</text>
<text x="245" y="235.5" font-size="11" class="r">8.6</text>
<polyline clip-path="url(#c41)" fill="none" stroke="#000" stroke-width="1.05" stroke-linejoin="round" points="313.5,230.02 314.13,229.48 314.77,228.93 315.4,229.39 316.03,229.85 316.66,230.16 317.3,229.35 317.93,228.54 318.56,229.3 319.2,230.06 319.83,229.89 320.46,229.72 321.09,229.35 321.73,228.97 322.36,228.59 322.99,228.51 323.63,228.44 324.26,228.36 324.89,228.42 325.52,228.54 326.16,227.93 326.79,227.32 327.42,226.71 328.06,227.87 328.69,229.02 329.32,228.16 329.95,227.29 330.59,226.41 331.22,226.71 331.85,227.01 332.49,227.04 333.12,227.05 333.75,225.92 334.38,224.79 335.02,224.79 335.65,224.79 336.28,224.85 336.92,224.91 337.55,224.97 338.18,226.49 338.82,228 339.45,228.05 340.08,227.28 340.71,226.51 341.35,227.15 341.98,227.79 342.61,228.43 343.25,227.42 343.88,226.41 344.51,225.4 345.14,226.29 345.78,227.18 346.41,227.25 347.04,227.31 347.68,227.21 348.31,227.13 348.94,227.07 349.57,226.38 350.21,225.69 350.84,225.63 351.47,225.56 352.11,225.51 352.74,226.43 353.37,227.34 354,226.56 354.64,225.79 355.27,227.15 355.9,228.52 356.54,228.01 357.17,227.15 357.8,226.29 358.43,226.29 359.07,226.29 359.7,225.73 360.33,225.16 360.97,225.52 361.6,225.94 362.23,226.36 362.86,226.19 363.5,226.02 364.13,225.03 364.76,224.05 365.4,225.02 366.03,225.98 366.66,225.33 367.29,224.67 367.93,225.23 368.56,225.79 369.19,226.21 369.83,225.47 370.46,224.73 371.09,224.77 371.72,224.81 372.36,224.19 372.99,223.57 373.62,222.89 374.26,223.08 374.89,223.26 375.52,223.45 376.15,222.4 376.79,221.9 377.42,222.8 378.05,223.7 378.69,223.65 379.32,223.6 379.95,224.35 380.58,224.96 381.22,225.15 381.85,225.33 382.48,225.52 383.12,223.76 383.75,222 384.38,223.3 385.02,224.61 385.65,223.52 386.28,222.42 386.91,223.36 387.55,224.29 388.18,224.03 388.81,223.93 389.45,223.82 390.08,223.55 390.71,223.28 391.34,223.87 391.98,224.45 392.61,223.38 393.24,222.23 393.88,222.41 394.51,222.58 395.14,222.07 395.77,221.57 396.41,221.08 397.04,222.34 397.67,223.6 398.31,223.3 398.94,222.99 399.57,222.69 400.2,223.11 400.84,223.41 401.47,223.52 402.1,222.58 402.74,221.65 403.37,222.02 404,222.4 404.63,221.64 405.27,221.14 405.9,221.66 406.53,222.18 407.17,222.7 407.8,222.31 408.43,221.91 409.06,222.25 409.7,222.55 410.33,222.44 410.96,222.33 411.6,222.9 412.23,223.47 412.86,222.89 413.49,222.21 414.13,222.62 414.76,223.02 415.39,221.87 416.03,220.72 416.66,221.62 417.29,222.53 417.92,222.51 418.56,222.55 419.19,222.59 419.82,221.82 420.46,221.05 421.09,221.56 421.72,222.05 422.35,222.37 422.99,222.05 423.62,221.73 424.25,221.41 424.89,221.84 425.52,222.26 426.15,221.57 426.78,221.09 427.42,222.08 428.05,223.04 428.68,222 429.32,220.96 429.95,222 430.58,223.05 431.22,222.17 431.85,221.28 432.48,222.2 433.11,223.25 433.75,221.92 434.38,220.58 435.01,221.68 435.65,222.77 436.28,223.86 436.91,223.07 437.54,222.18 438.18,221.3 438.81,221.82 439.44,222.34 440.08,222.86 440.71,221.19 441.34,219.84 441.97,221.11 442.61,222.37 443.24,221.41 443.87,220.45 444.51,221.25 445.14,221.84 445.77,222.08 446.4,222.31 447.04,220.71 447.67,219.11 448.3,219.53 448.94,219.95 449.57,220.85 450.2,220.94 450.83,221.04 451.47,220.2 452.1,219.36 452.73,220.85 453.37,222.3 454,221.52 454.63,220.75 455.26,220.82 455.9,220.9 456.53,221.04 457.16,221.19 457.8,220.91 458.43,220.93 459.06,220.94 459.69,221.16 460.33,221.38 460.96,222.29 461.59,223.19 462.23,222.46 462.86,221.62 463.49,222.01 464.12,222.4 464.76,221.29 465.39,220.19 466.02,220.73 466.66,221.5 467.29,221.45 467.92,221.39 468.55,221.34 469.19,222.38 469.82,223.42 470.45,222.5 471.09,221.38 471.72,221.77 472.35,222.17 472.98,221.34 473.62,220.51 474.25,220.91 474.88,221.25 475.52,220.61 476.15,219.98 476.78,220 477.42,220.03 478.05,219.31 478.68,218.78 479.31,220.24 479.95,221.7 480.58,221.91 481.21,221.69 481.85,222.15 482.48,222.61 483.11,222.01 483.74,221.41 484.38,220.81 485.01,221.44 485.64,221.64 486.28,220.41 486.91,219.18 487.54,219.27 488.17,219.49 488.81,219.55 489.44,219.62 490.07,220.87 490.71,222.13 491.34,223.32 491.97,222.96 492.6,222.6 493.24,222.23 493.87,221.88 494.5,221.53 495.14,222.36 495.77,223.22 496.4,224.12 497.03,223.64 497.67,223.17 498.3,222.7 498.93,223.13 499.57,223.57 500.2,224 500.83,223.66 501.46,223.32 502.1,222.98 502.73,224.44 503.36,225.91 504,224.8 504.63,223.35 505.26,223.42 505.89,223.5 506.53,223.71 507.16,223.91 507.79,223.24 508.43,222.8 509.06,222.66 509.69,224.07 510.32,225.48 510.96,225.34 511.59,225.19 512.22,225.05 512.86,226.22 513.49,227.37 514.12,226.36 514.75,225.35 515.39,226.42 516.02,227.49 516.65,226.89 517.29,225.96 517.92,226.57 518.55,227.19 519.18,226.16 519.82,225.12 520.45,225.55 521.08,226.12 521.72,226.87 522.35,226.42 522.98,225.96 523.62,227.11 524.25,228.26 524.88,227.85 525.51,227.4 526.15,226.93 526.78,227.52 527.41,228.11 528.05,227.63 528.68,227.15 529.31,227.83 529.94,228.33 530.58,227.28 531.21,226.23 531.84,226.54 532.48,226.85 533.11,227.17 533.74,226.9 534.37,226.85 535.01,226.81 535.64,227.67 536.27,228.54 536.91,229.41 537.54,229.18 538.17,228.59 538.8,227.89 539.44,228.96 540.07,230.03 540.7,228.85 541.34,227.66 541.97,227.75 542.6,228.08 543.23,228.42 543.87,228.86 544.5,229.19"/>
<path d="M319.2 250.2v-1.3M319.2 211.4v1.3M325.52 250.2v-1.3M325.52 211.4v1.3M331.85 250.2v-1.3M331.85 211.4v1.3M338.18 250.2v-1.3M338.18 211.4v1.3M344.51 250.2v-2.4M344.51 211.4v2.4M350.84 250.2v-1.3M350.84 211.4v1.3M357.17 250.2v-1.3M357.17 211.4v1.3M363.5 250.2v-1.3M363.5 211.4v1.3M369.83 250.2v-1.3M369.83 211.4v1.3M376.15 250.2v-2.4M376.15 211.4v2.4M382.48 250.2v-1.3M382.48 211.4v1.3M388.81 250.2v-1.3M388.81 211.4v1.3M395.14 250.2v-1.3M395.14 211.4v1.3M401.47 250.2v-1.3M401.47 211.4v1.3M407.8 250.2v-2.4M407.8 211.4v2.4M414.13 250.2v-1.3M414.13 211.4v1.3M420.46 250.2v-1.3M420.46 211.4v1.3M426.78 250.2v-1.3M426.78 211.4v1.3M433.11 250.2v-1.3M433.11 211.4v1.3M439.44 250.2v-2.4M439.44 211.4v2.4M445.77 250.2v-1.3M445.77 211.4v1.3M452.1 250.2v-1.3M452.1 211.4v1.3M458.43 250.2v-1.3M458.43 211.4v1.3M464.76 250.2v-1.3M464.76 211.4v1.3M471.09 250.2v-2.4M471.09 211.4v2.4M477.42 250.2v-1.3M477.42 211.4v1.3M483.74 250.2v-1.3M483.74 211.4v1.3M490.07 250.2v-1.3M490.07 211.4v1.3M496.4 250.2v-1.3M496.4 211.4v1.3M502.73 250.2v-2.4M502.73 211.4v2.4M509.06 250.2v-1.3M509.06 211.4v1.3M515.39 250.2v-1.3M515.39 211.4v1.3M521.72 250.2v-1.3M521.72 211.4v1.3M528.05 250.2v-1.3M528.05 211.4v1.3M534.37 250.2v-2.4M534.37 211.4v2.4M540.7 250.2v-1.3M540.7 211.4v1.3M313.5 242.44h2.6M544.5 242.44h-2.6M313.5 234.68h1.3M544.5 234.68h-1.3M313.5 226.92h2.6M544.5 226.92h-2.6M313.5 219.16h1.3M544.5 219.16h-1.3" stroke="#1e1e1e" stroke-width="0.9" fill="none"/>
<rect x="313.5" y="211.4" width="231" height="38.8" fill="none" stroke="#1e1e1e" stroke-width="1"/>
<text x="318.3" y="225.2" font-size="11" fill="#111">(j)</text>
<text x="322.4" y="234.7" font-size="11" class="r">2.9</text>
<text x="370" y="234.7" font-size="11" class="r">3.2</text>
<text x="427.5" y="234.7" font-size="11" class="r">3.3</text>
<text x="487.8" y="234.7" font-size="11" class="r">3.2</text>
<text x="68.6" y="214.6" font-size="11" text-anchor="end" fill="#111">10</text>
<text x="68.6" y="227.53" font-size="11" text-anchor="end" fill="#111">8</text>
<text x="68.6" y="240.47" font-size="11" text-anchor="end" fill="#111">6</text>
<text x="68.6" y="253.4" font-size="11" text-anchor="end" fill="#111">4</text>
<text x="311.3" y="215.8" font-size="11" text-anchor="end" fill="#111">4</text>
<text x="311.3" y="231.32" font-size="11" text-anchor="end" fill="#111">3</text>
<text x="311.3" y="246.84" font-size="11" text-anchor="end" fill="#111">2</text>
<text x="42.35" y="227.5" font-size="6.6" text-anchor="middle" class="s">The Pacific</text>
<text x="42.4" y="235.4" font-size="6.6" text-anchor="middle" class="s">Ocean</text>
<polyline clip-path="url(#c50)" fill="none" stroke="#000" stroke-width="1.05" stroke-linejoin="round" points="70.5,287.32 71.13,287.02 71.77,286.72 72.4,286.42 73.03,287.18 73.66,287.94 74.3,287.47 74.93,286.76 75.56,286.75 76.2,286.75 76.83,286.75 77.46,286.74 78.09,286 78.73,285.29 79.36,285.23 79.99,285.17 80.63,285.11 81.26,284.78 81.89,284.46 82.52,284.13 83.16,283.98 83.79,284.21 84.42,284.44 85.06,284.68 85.69,284.91 86.32,284.98 86.95,285.02 87.59,284.61 88.22,284.2 88.85,283.8 89.49,283.39 90.12,283.47 90.75,283.56 91.38,283.72 92.02,283.82 92.65,283.91 93.28,283.64 93.92,283.37 94.55,283.1 95.18,282.83 95.82,282.31 96.45,281.8 97.08,281.74 97.71,281.67 98.35,281.53 98.98,281.39 99.61,281.25 100.25,281.42 100.88,281.6 101.51,281.77 102.14,281.5 102.78,281.24 103.41,280.97 104.04,280.4 104.68,279.82 105.31,279.24 105.94,279.58 106.57,279.91 107.21,280.24 107.84,279.57 108.47,278.9 109.11,278.95 109.74,279 110.37,279.05 111,278.37 111.64,277.7 112.27,278.21 112.9,278.73 113.54,278.09 114.17,277.45 114.8,276.81 115.43,277.17 116.07,277.54 116.7,277.9 117.33,277.05 117.97,276.21 118.6,276.25 119.23,276.29 119.86,276.33 120.5,276.37 121.13,275.83 121.76,275.27 122.4,274.71 123.03,274.93 123.66,275.15 124.29,274.6 124.93,274.06 125.56,273.63 126.19,273.2 126.83,273.5 127.46,273.79 128.09,273.66 128.72,273.53 129.36,273.41 129.99,273.24 130.62,273.07 131.26,272.9 131.89,272.73 132.52,273.18 133.15,273.63 133.79,273.03 134.42,272.43 135.05,272.38 135.69,272.34 136.32,272.3 136.95,272.43 137.58,272.56 138.22,272.72 138.85,272.32 139.48,271.92 140.12,271.52 140.75,271.59 141.38,271.67 142.02,271.74 142.65,271.81 143.28,271.76 143.91,271.7 144.55,271.65 145.18,271.7 145.81,271.75 146.45,271.44 147.08,271.16 147.71,270.87 148.34,271.34 148.98,271.8 149.61,272.27 150.24,272.71 150.88,272.31 151.51,271.92 152.14,271.52 152.77,271.12 153.41,271.92 154.04,272.71 154.67,272.28 155.31,271.83 155.94,271.38 156.57,270.93 157.2,270.81 157.84,270.69 158.47,270.58 159.1,270.36 159.74,270.33 160.37,270.29 161,270.25 161.63,270.22 162.27,270.21 162.9,270.28 163.53,270.35 164.17,270.42 164.8,271.02 165.43,271.37 166.06,271.66 166.7,270.96 167.33,270.25 167.96,270.41 168.6,270.57 169.23,270.76 169.86,270.01 170.49,269.25 171.13,269.83 171.76,270.41 172.39,270.98 173.03,271.56 173.66,271.15 174.29,270.61 174.92,270.07 175.56,270.18 176.19,270.29 176.82,270.32 177.46,270.34 178.09,270.63 178.72,270.97 179.35,270.2 179.99,269.43 180.62,269.97 181.25,270.52 181.89,271.04 182.52,270.83 183.15,270.62 183.78,270.41 184.42,270.54 185.05,270.67 185.68,270.8 186.32,270.56 186.95,270.28 187.58,270.38 188.22,270.49 188.85,270.6 189.48,270.71 190.11,270.57 190.75,270.59 191.38,270.63 192.01,270.74 192.65,270.85 193.28,270.99 193.91,271.13 194.54,271.24 195.18,270.93 195.81,270.62 196.44,270.32 197.08,270.01 197.71,270.26 198.34,270.5 198.97,270.3 199.61,270.19 200.24,270.09 200.87,269.98 201.51,270.3 202.14,270.62 202.77,270.93 203.4,270.42 204.04,269.79 204.67,269.16 205.3,268.86 205.94,269.03 206.57,269.21 207.2,269.32 207.83,269.88 208.47,270.44 209.1,269.91 209.73,269.37 210.37,268.83 211,269.1 211.63,269.46 212.26,269.92 212.9,270.38 213.53,270.21 214.16,270.05 214.8,270.24 215.43,270.43 216.06,270.59 216.69,270.75 217.33,270.62 217.96,270.49 218.59,270.36 219.23,270.76 219.86,271.11 220.49,270.25 221.12,269.38 221.76,269.77 222.39,270.16 223.02,270.55 223.66,269.84 224.29,269.24 224.92,268.76 225.55,269.42 226.19,270.08 226.82,270.74 227.45,270.5 228.09,270.25 228.72,269.9 229.35,269.53 229.98,269.85 230.62,270.17 231.25,270.5 231.88,269.73 232.52,268.98 233.15,269.78 233.78,270.59 234.42,270.56 235.05,270.53 235.68,270.5 236.31,270.35 236.95,270.28 237.58,270.26 238.21,270.85 238.85,271.43 239.48,272.02 240.11,272 240.74,271.98 241.38,271.78 242.01,271.58 242.64,271.37 243.28,271.16 243.91,271.65 244.54,272.13 245.17,272.61 245.81,272.5 246.44,272.39 247.07,272.27 247.71,272.57 248.34,272.87 248.97,273.16 249.6,273.06 250.24,273.03 250.87,272.99 251.5,273.23 252.14,273.48 252.77,273.72 253.4,274.21 254.03,274.72 254.67,275.24 255.3,275.2 255.93,275.16 256.57,275.12 257.2,275.79 257.83,276.42 258.46,276.84 259.1,276.53 259.73,276.22 260.36,275.91 261,275.6 261.63,276.05 262.26,276.47 262.89,276.86 263.53,276.35 264.16,275.83 264.79,275.32 265.43,275.41 266.06,275.5 266.69,275.84 267.32,276.22 267.96,276.45 268.59,276.68 269.22,276.91 269.86,276.92 270.49,276.96 271.12,277.07 271.75,277.77 272.39,278.47 273.02,279.18 273.65,279.14 274.29,279.11 274.92,279.08 275.55,279.04 276.18,280.01 276.82,280.97 277.45,281.21 278.08,281.45 278.72,281.69 279.35,281.5 279.98,281.28 280.62,281.07 281.25,281.74 281.88,282.41 282.51,283.08 283.15,282.79 283.78,282.49 284.41,282.18 285.05,281.87 285.68,282.16 286.31,282.44 286.94,282.47 287.58,282.59 288.21,282.81 288.84,282.94 289.48,283.06 290.11,283.72 290.74,284.37 291.37,285.02 292.01,284.7 292.64,284.38 293.27,284.06 293.91,284.53 294.54,285 295.17,285.47 295.8,285.91 296.44,285.86 297.07,285.8 297.7,285.75 298.34,285.69 298.97,285.92 299.6,286.15 300.23,286.22 300.87,286.17 301.5,285.24"/>
<path d="M76.2 296.5v-1.3M76.2 258.7v1.3M82.52 296.5v-1.3M82.52 258.7v1.3M88.85 296.5v-1.3M88.85 258.7v1.3M95.18 296.5v-1.3M95.18 258.7v1.3M101.51 296.5v-2.4M101.51 258.7v2.4M107.84 296.5v-1.3M107.84 258.7v1.3M114.17 296.5v-1.3M114.17 258.7v1.3M120.5 296.5v-1.3M120.5 258.7v1.3M126.83 296.5v-1.3M126.83 258.7v1.3M133.15 296.5v-2.4M133.15 258.7v2.4M139.48 296.5v-1.3M139.48 258.7v1.3M145.81 296.5v-1.3M145.81 258.7v1.3M152.14 296.5v-1.3M152.14 258.7v1.3M158.47 296.5v-1.3M158.47 258.7v1.3M164.8 296.5v-2.4M164.8 258.7v2.4M171.13 296.5v-1.3M171.13 258.7v1.3M177.46 296.5v-1.3M177.46 258.7v1.3M183.78 296.5v-1.3M183.78 258.7v1.3M190.11 296.5v-1.3M190.11 258.7v1.3M196.44 296.5v-2.4M196.44 258.7v2.4M202.77 296.5v-1.3M202.77 258.7v1.3M209.1 296.5v-1.3M209.1 258.7v1.3M215.43 296.5v-1.3M215.43 258.7v1.3M221.76 296.5v-1.3M221.76 258.7v1.3M228.09 296.5v-2.4M228.09 258.7v2.4M234.42 296.5v-1.3M234.42 258.7v1.3M240.74 296.5v-1.3M240.74 258.7v1.3M247.07 296.5v-1.3M247.07 258.7v1.3M253.4 296.5v-1.3M253.4 258.7v1.3M259.73 296.5v-2.4M259.73 258.7v2.4M266.06 296.5v-1.3M266.06 258.7v1.3M272.39 296.5v-1.3M272.39 258.7v1.3M278.72 296.5v-1.3M278.72 258.7v1.3M285.05 296.5v-1.3M285.05 258.7v1.3M291.37 296.5v-2.4M291.37 258.7v2.4M297.7 296.5v-1.3M297.7 258.7v1.3M70.5 290.2h1.3M301.5 290.2h-1.3M70.5 283.9h2.6M301.5 283.9h-2.6M70.5 277.6h1.3M301.5 277.6h-1.3M70.5 271.3h2.6M301.5 271.3h-2.6M70.5 265h1.3M301.5 265h-1.3" stroke="#1e1e1e" stroke-width="0.9" fill="none"/>
<rect x="70.5" y="258.7" width="231" height="37.8" fill="none" stroke="#1e1e1e" stroke-width="1"/>
<text x="74.5" y="272.15" font-size="11" fill="#111">(k)</text>
<text x="79" y="283.3" font-size="11" class="r">6.0</text>
<text x="128.8" y="283.3" font-size="11" class="r">7.6</text>
<text x="189" y="283.3" font-size="11" class="r">8.0</text>
<text x="246.5" y="283.3" font-size="11" class="r">7.4</text>
<polyline clip-path="url(#c51)" fill="none" stroke="#000" stroke-width="1.05" stroke-linejoin="round" points="313.5,284.7 314.13,284.29 314.77,283.87 315.4,283.46 316.03,284.25 316.66,284.84 317.3,285.35 317.93,284.61 318.56,283.87 319.2,283.9 319.83,283.94 320.46,283.98 321.09,283.48 321.73,282.98 322.36,283.61 322.99,284.25 323.63,284.52 324.26,284.8 324.89,285.09 325.52,285.19 326.16,285.28 326.79,285.38 327.42,284.78 328.06,284.19 328.69,284.48 329.32,284.65 329.95,284.38 330.59,284.12 331.22,283.86 331.85,284.47 332.49,285.08 333.12,285.69 333.75,284.63 334.38,283.57 335.02,283.63 335.65,283.7 336.28,283.76 336.92,284.31 337.55,284.81 338.18,285.24 338.82,285.1 339.45,284.96 340.08,284.82 340.71,284.28 341.35,283.74 341.98,283.55 342.61,283.42 343.25,284.41 343.88,285.39 344.51,285.41 345.14,285.43 345.78,285.14 346.41,284.49 347.04,283.84 347.68,284.04 348.31,284.24 348.94,284.44 349.57,284.02 350.21,283.64 350.84,283.86 351.47,284.09 352.11,283.61 352.74,283.13 353.37,282.65 354,283.17 354.64,283.83 355.27,284.53 355.9,283.55 356.54,282.56 357.17,283.2 357.8,283.85 358.43,284.47 359.07,283.76 359.7,283.04 360.33,283.23 360.97,283.42 361.6,283.6 362.23,282.96 362.86,282.39 363.5,281.94 364.13,282.33 364.76,282.72 365.4,282.14 366.03,281.57 366.66,281.37 367.29,281.14 367.93,280.9 368.56,281.8 369.19,282.7 369.83,282.19 370.46,281.69 371.09,281.18 371.72,281.81 372.36,282.44 372.99,281.44 373.62,280.45 374.26,279.45 374.89,279.7 375.52,280.03 376.15,280.47 376.79,281.07 377.42,281.66 378.05,282.26 378.69,281.81 379.32,281.35 379.95,280.82 380.58,280.22 381.22,280.78 381.85,281.34 382.48,280.61 383.12,279.88 383.75,280.21 384.38,280.74 385.02,280.2 385.65,279.66 386.28,280.4 386.91,281.13 387.55,281.53 388.18,281.86 388.81,280.96 389.45,280.06 390.08,279.16 390.71,279.46 391.34,279.76 391.98,280.06 392.61,279.26 393.24,278.48 393.88,279.37 394.51,280.26 395.14,279.66 395.77,279.05 396.41,278.44 397.04,279.02 397.67,279.6 398.31,279.51 398.94,279.41 399.57,279.32 400.2,278.69 400.84,278.04 401.47,277.38 402.1,278.02 402.74,278.66 403.37,279.3 404,278.24 404.63,277.18 405.27,277.48 405.9,277.85 406.53,278.22 407.17,278.14 407.8,278.05 408.43,277.97 409.06,278.45 409.7,278.7 410.33,278.94 410.96,278.38 411.6,277.82 412.23,277.26 412.86,278.05 413.49,278.95 414.13,278.29 414.76,277.63 415.39,278.33 416.03,279.02 416.66,278.67 417.29,278.32 417.92,277.72 418.56,277.9 419.19,278.09 419.82,278.28 420.46,277.56 421.09,276.84 421.72,276.15 422.35,277.57 422.99,278.98 423.62,278.55 424.25,278.12 424.89,277.68 425.52,278.4 426.15,278.97 426.78,278.2 427.42,277.43 428.05,277.8 428.68,278.23 429.32,278.66 429.95,278.4 430.58,278.14 431.22,277.88 431.85,277.6 432.48,277.32 433.11,277.8 433.75,278.28 434.38,277.81 435.01,277.34 435.65,276.86 436.28,277.11 436.91,277.49 437.54,277.23 438.18,276.97 438.81,277.86 439.44,278.75 440.08,278.13 440.71,277.49 441.34,276.68 441.97,277 442.61,277.33 443.24,277.65 443.87,277.28 444.51,276.91 445.14,277.14 445.77,277.18 446.4,277.22 447.04,276.04 447.67,274.87 448.3,274.04 448.94,275.46 449.57,276.88 450.2,276.34 450.83,275.8 451.47,276.85 452.1,277.6 452.73,277.67 453.37,277.74 454,277.81 454.63,277.03 455.26,276.25 455.9,275.68 456.53,276.54 457.16,277.41 457.8,278.27 458.43,277.63 459.06,276.98 459.69,277.98 460.33,278.73 460.96,277.96 461.59,277.18 462.23,276.41 462.86,276.86 463.49,277.31 464.12,277.87 464.76,278.14 465.39,278.42 466.02,278.26 466.66,278.09 467.29,277.93 467.92,278.24 468.55,278.31 469.19,277.89 469.82,277.48 470.45,277.3 471.09,277.12 471.72,276.94 472.35,277.49 472.98,278.05 473.62,277.1 474.25,276.15 474.88,275.8 475.52,275.45 476.15,275.91 476.78,276.55 477.42,277.42 478.05,276.7 478.68,275.98 479.31,276.77 479.95,277.55 480.58,278.34 481.21,277.92 481.85,277.47 482.48,277.02 483.11,277.78 483.74,278.54 484.38,279.29 485.01,278.89 485.64,278.16 486.28,277.44 486.91,277.62 487.54,277.81 488.17,277.99 488.81,277.7 489.44,277.57 490.07,277.66 490.71,277.62 491.34,277.58 491.97,277.54 492.6,277.89 493.24,278.23 493.87,278.54 494.5,278.86 495.14,279.17 495.77,278.93 496.4,278.7 497.03,278.46 497.67,279.15 498.3,279.79 498.93,279.51 499.57,279.23 500.2,279.57 500.83,279.91 501.46,279.65 502.1,279.25 502.73,279.5 503.36,279.75 504,280 504.63,279.02 505.26,278.03 505.89,278.48 506.53,279.15 507.16,279.89 507.79,279.02 508.43,278.15 509.06,278.59 509.69,279.04 510.32,279.48 510.96,278.97 511.59,278.45 512.22,279.42 512.86,280.39 513.49,280.54 514.12,280.69 514.75,280.85 515.39,280.27 516.02,279.69 516.65,280.49 517.29,281.28 517.92,280.9 518.55,280.51 519.18,280.97 519.82,281.41 520.45,281.86 521.08,281.38 521.72,280.89 522.35,280.41 522.98,281.57 523.62,282.5 524.25,282.15 524.88,281.81 525.51,281.46 526.15,280.93 526.78,280.41 527.41,280.02 528.05,280.52 528.68,281.01 529.31,281.01 529.94,281.01 530.58,281.01 531.21,281.29 531.84,281.57 532.48,281.85 533.11,282.14 533.74,282.43 534.37,282.72 535.01,282.39 535.64,282.06 536.27,281.73 536.91,282.49 537.54,283.25 538.17,284.02 538.8,283.46 539.44,282.91 540.07,283.28 540.7,283.66 541.34,284.11 541.97,284.55 542.6,284.99 543.23,284.84 543.87,284.69 544.5,284.93"/>
<path d="M319.2 296.7v-1.3M319.2 259.8v1.3M325.52 296.7v-1.3M325.52 259.8v1.3M331.85 296.7v-1.3M331.85 259.8v1.3M338.18 296.7v-1.3M338.18 259.8v1.3M344.51 296.7v-2.4M344.51 259.8v2.4M350.84 296.7v-1.3M350.84 259.8v1.3M357.17 296.7v-1.3M357.17 259.8v1.3M363.5 296.7v-1.3M363.5 259.8v1.3M369.83 296.7v-1.3M369.83 259.8v1.3M376.15 296.7v-2.4M376.15 259.8v2.4M382.48 296.7v-1.3M382.48 259.8v1.3M388.81 296.7v-1.3M388.81 259.8v1.3M395.14 296.7v-1.3M395.14 259.8v1.3M401.47 296.7v-1.3M401.47 259.8v1.3M407.8 296.7v-2.4M407.8 259.8v2.4M414.13 296.7v-1.3M414.13 259.8v1.3M420.46 296.7v-1.3M420.46 259.8v1.3M426.78 296.7v-1.3M426.78 259.8v1.3M433.11 296.7v-1.3M433.11 259.8v1.3M439.44 296.7v-2.4M439.44 259.8v2.4M445.77 296.7v-1.3M445.77 259.8v1.3M452.1 296.7v-1.3M452.1 259.8v1.3M458.43 296.7v-1.3M458.43 259.8v1.3M464.76 296.7v-1.3M464.76 259.8v1.3M471.09 296.7v-2.4M471.09 259.8v2.4M477.42 296.7v-1.3M477.42 259.8v1.3M483.74 296.7v-1.3M483.74 259.8v1.3M490.07 296.7v-1.3M490.07 259.8v1.3M496.4 296.7v-1.3M496.4 259.8v1.3M502.73 296.7v-2.4M502.73 259.8v2.4M509.06 296.7v-1.3M509.06 259.8v1.3M515.39 296.7v-1.3M515.39 259.8v1.3M521.72 296.7v-1.3M521.72 259.8v1.3M528.05 296.7v-1.3M528.05 259.8v1.3M534.37 296.7v-2.4M534.37 259.8v2.4M540.7 296.7v-1.3M540.7 259.8v1.3M313.5 289.32h2.6M544.5 289.32h-2.6M313.5 281.94h1.3M544.5 281.94h-1.3M313.5 274.56h2.6M544.5 274.56h-2.6M313.5 267.18h1.3M544.5 267.18h-1.3" stroke="#1e1e1e" stroke-width="0.9" fill="none"/>
<rect x="313.5" y="259.8" width="231" height="36.9" fill="none" stroke="#1e1e1e" stroke-width="1"/>
<text x="317.1" y="273.6" font-size="11" fill="#111">(l)</text>
<text x="322.4" y="283.4" font-size="11" class="r">2.7</text>
<text x="370" y="283.4" font-size="11" class="r">2.9</text>
<text x="427.5" y="283.4" font-size="11" class="r">3.1</text>
<text x="487.3" y="283.4" font-size="11" class="r">3.0</text>
<text x="68.6" y="262.9" font-size="11" text-anchor="end" fill="#111">10</text>
<text x="68.6" y="275.5" font-size="11" text-anchor="end" fill="#111">8</text>
<text x="68.6" y="288.1" font-size="11" text-anchor="end" fill="#111">6</text>
<text x="68.6" y="300.7" font-size="11" text-anchor="end" fill="#111">4</text>
<text x="311.3" y="264.2" font-size="11" text-anchor="end" fill="#111">4</text>
<text x="311.3" y="278.96" font-size="11" text-anchor="end" fill="#111">3</text>
<text x="311.3" y="293.72" font-size="11" text-anchor="end" fill="#111">2</text>
<text x="43.75" y="276.9" font-size="6.6" text-anchor="middle" class="s">The Whole</text>
<text x="45.15" y="284.7" font-size="6.6" text-anchor="middle" class="s">Region</text>
<text x="101.51" y="307.7" font-size="11" text-anchor="middle" fill="#111">50</text>
<text x="133.15" y="307.7" font-size="11" text-anchor="middle" fill="#111">100</text>
<text x="164.8" y="307.7" font-size="11" text-anchor="middle" fill="#111">150</text>
<text x="196.44" y="307.7" font-size="11" text-anchor="middle" fill="#111">200</text>
<text x="228.09" y="307.7" font-size="11" text-anchor="middle" fill="#111">250</text>
<text x="259.73" y="307.7" font-size="11" text-anchor="middle" fill="#111">300</text>
<text x="291.37" y="307.7" font-size="11" text-anchor="middle" fill="#111">350</text>
<text x="344.51" y="307.7" font-size="11" text-anchor="middle" fill="#111">50</text>
<text x="376.15" y="307.7" font-size="11" text-anchor="middle" fill="#111">100</text>
<text x="407.8" y="307.7" font-size="11" text-anchor="middle" fill="#111">150</text>
<text x="439.44" y="307.7" font-size="11" text-anchor="middle" fill="#111">200</text>
<text x="471.09" y="307.7" font-size="11" text-anchor="middle" fill="#111">250</text>
<text x="502.73" y="307.7" font-size="11" text-anchor="middle" fill="#111">300</text>
<text x="534.37" y="307.7" font-size="11" text-anchor="middle" fill="#111">350</text>
<text x="185" y="320" font-size="11.3" text-anchor="middle" fill="#111">Julian date</text>
<text x="428.5" y="320" font-size="11.3" text-anchor="middle" fill="#111">Julain date</text>
<text x="184" y="13.1" font-size="11.2" text-anchor="middle" fill="#111">Mean daily wind speed</text>
<text x="427.3" y="13.1" font-size="11.2" text-anchor="middle" fill="#111">Standard deviation</text>
<text id="ylab" transform="translate(17.1,196.2) rotate(-90)" font-size="11.6" fill="#111">Wind speed (m s<tspan font-size="7.5" dy="-5.8">-1</tspan><tspan dy="5.8">)</tspan></text>
</g></svg></body></html>
